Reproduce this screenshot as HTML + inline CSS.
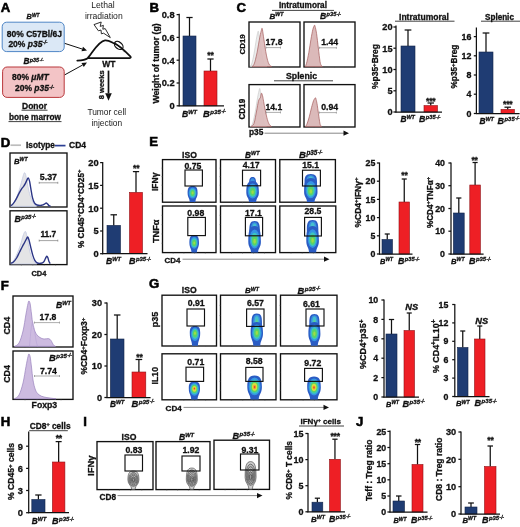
<!DOCTYPE html>
<html><head><meta charset="utf-8"><title>Figure</title>
<style>html,body{margin:0;padding:0;background:#fff}svg{display:block}text{font-family:"Liberation Sans",Arial,Helvetica,sans-serif}text[font-weight="bold"]{stroke:#111;stroke-width:0.3px}</style>
</head><body>
<svg width="520" height="527" viewBox="0 0 520 527">
<defs><filter id="bl" x="-20%" y="-20%" width="140%" height="140%"><feGaussianBlur stdDeviation="0.45"/></filter></defs>
<rect width="520" height="527" fill="#fff"/>
<text x="0.80" y="11.60" font-size="13.20" font-weight="bold" text-anchor="start" fill="#000" style="stroke:#000;stroke-width:0.55px">A</text>
<text x="149.50" y="11.60" font-size="13.20" font-weight="bold" text-anchor="start" fill="#000" style="stroke:#000;stroke-width:0.55px">B</text>
<text x="236.40" y="11.80" font-size="13.20" font-weight="bold" text-anchor="start" fill="#000" style="stroke:#000;stroke-width:0.55px">C</text>
<text x="0.80" y="146.60" font-size="13.20" font-weight="bold" text-anchor="start" fill="#000" style="stroke:#000;stroke-width:0.55px">D</text>
<text x="149.30" y="146.20" font-size="13.20" font-weight="bold" text-anchor="start" fill="#000" style="stroke:#000;stroke-width:0.55px">E</text>
<text x="0.80" y="290.00" font-size="13.20" font-weight="bold" text-anchor="start" fill="#000" style="stroke:#000;stroke-width:0.55px">F</text>
<text x="149.00" y="288.30" font-size="13.20" font-weight="bold" text-anchor="start" fill="#000" style="stroke:#000;stroke-width:0.55px">G</text>
<text x="0.80" y="425.50" font-size="13.20" font-weight="bold" text-anchor="start" fill="#000" style="stroke:#000;stroke-width:0.55px">H</text>
<text x="83.20" y="426.00" font-size="13.20" font-weight="bold" text-anchor="start" fill="#000" style="stroke:#000;stroke-width:0.55px">I</text>
<text x="356.00" y="426.00" font-size="13.20" font-weight="bold" text-anchor="start" fill="#000" style="stroke:#000;stroke-width:0.55px">J</text>
<text x="26.60" y="19.20" font-size="7.32" font-weight="bold" font-style="italic" fill="#111">B<tspan font-size="4.83" dy="-2.49">WT</tspan></text>
<rect x="2.20" y="22.20" width="62.00" height="29.40" fill="#dbe8f6" stroke="#4f86c6" stroke-width="1.0" rx="4.5"/>
<text x="6.80" y="36.80" font-size="8.49" font-weight="bold" text-anchor="start" fill="#111">80% C57Bl/6J</text>
<text x="8.40" y="46.60" font-size="8.49" font-weight="bold" fill="#111">20% <tspan font-style="italic">p35</tspan><tspan font-style="italic" font-size="5.09" dy="-2.72" dx="0.4">-/-</tspan></text>
<text x="23.40" y="64.40" font-size="8.24" font-weight="bold" font-style="italic" fill="#111">B<tspan font-size="5.44" dy="-2.80" dx="0.41">p35</tspan><tspan font-size="4.29" dy="-0.41" dx="0.41">-/-</tspan></text>
<rect x="2.60" y="67.00" width="61.60" height="30.40" fill="#f3c4c6" stroke="#b9373b" stroke-width="1.0" rx="4.5"/>
<text x="12" y="80.4" font-size="8.49" font-weight="bold" fill="#111">80% <tspan font-style="italic">μMT</tspan></text>
<text x="15.00" y="91.40" font-size="8.49" font-weight="bold" fill="#111">20% <tspan font-style="italic">p35</tspan><tspan font-style="italic" font-size="5.09" dy="-2.72" dx="0.4">-/-</tspan></text>
<text x="22.00" y="108.60" font-size="8.49" font-weight="bold" text-anchor="start" fill="#111">Donor</text>
<line x1="21.50" y1="110.20" x2="47.50" y2="110.20" stroke="#111" stroke-width="0.8" stroke-linecap="butt"/>
<text x="9.00" y="119.80" font-size="8.28" font-weight="bold" text-anchor="start" fill="#111">bone marrow</text>
<line x1="8.50" y1="121.60" x2="61.50" y2="121.60" stroke="#111" stroke-width="0.8" stroke-linecap="butt"/>
<text x="103.00" y="8.20" font-size="8.60" font-weight="normal" text-anchor="middle" fill="#222">Lethal</text>
<text x="103.80" y="18.60" font-size="8.60" font-weight="normal" text-anchor="middle" fill="#222">irradiation</text>
<path d="M94,24.6 L101.2,22 L100.2,26.4 L103.4,25.4 L102.8,29.2 L105.2,28.6 L110.3,37.6 L103.6,33.2 L101.4,33.8 L101,30 L98.4,30.8 Z" fill="#fff" stroke="#222" stroke-width="0.95" stroke-linejoin="miter"/>
<path d="M77.3,60.6 C81,60.4 85,60.2 87.6,58.2 C92,54 98,41 105,40.3 C109,40 112,42.5 114.5,43.5 C120,45.6 126,52 130.6,56.6 C131.2,57.6 130.4,58 129.4,58 L88,58" fill="none" stroke="#111" stroke-width="1.75" stroke-linecap="round" stroke-linejoin="round"/>
<ellipse cx="118.6" cy="45.4" rx="4.9" ry="3.3" transform="rotate(40 118.6 45.6)" fill="none" stroke="#111" stroke-width="1.2"/>
<line x1="114.60" y1="42.40" x2="123.40" y2="50.60" stroke="#111" stroke-width="0.9" stroke-linecap="butt"/>
<circle cx="124.2" cy="51.6" r="0.55" fill="#111"/>
<line x1="64.80" y1="43.40" x2="82.24" y2="49.06" stroke="#111" stroke-width="1.0" stroke-linecap="butt"/>
<path d="M87.00,50.60 L81.50,51.34 L82.98,46.77 Z" fill="#111"/>
<line x1="64.80" y1="74.80" x2="82.62" y2="65.01" stroke="#111" stroke-width="1.0" stroke-linecap="butt"/>
<path d="M87.00,62.60 L83.77,67.11 L81.46,62.90 Z" fill="#111"/>
<text x="102.20" y="67.00" font-size="8.49" font-weight="bold" text-anchor="start" fill="#111">WT</text>
<line x1="108.50" y1="70.60" x2="108.50" y2="93.20" stroke="#111" stroke-width="1.7" stroke-linecap="butt"/>
<path d="M108.50,100.80 L105.20,93.20 L111.80,93.20 Z" fill="#111"/>
<text x="104.10" y="99.20" font-size="7.51" font-weight="bold" fill="#111" transform="rotate(-90 104.10 99.20)">8 weeks</text>
<text x="106.80" y="115.20" font-size="8.40" font-weight="normal" text-anchor="middle" fill="#222">Tumor cell</text>
<text x="106.80" y="126.20" font-size="8.40" font-weight="normal" text-anchor="middle" fill="#222">injection</text>
<line x1="189.50" y1="36.00" x2="189.50" y2="17.50" stroke="#111" stroke-width="1.25" stroke-linecap="butt"/>
<line x1="186.38" y1="17.50" x2="192.62" y2="17.50" stroke="#111" stroke-width="1.25" stroke-linecap="butt"/>
<rect x="183.00" y="36.00" width="13.00" height="69.80" fill="#1f3c73" stroke="#132447" stroke-width="0.6"/>
<line x1="210.50" y1="71.00" x2="210.50" y2="59.00" stroke="#111" stroke-width="1.25" stroke-linecap="butt"/>
<line x1="207.38" y1="59.00" x2="213.62" y2="59.00" stroke="#111" stroke-width="1.25" stroke-linecap="butt"/>
<rect x="204.00" y="71.00" width="13.00" height="34.80" fill="#ee1f25" stroke="#8f1216" stroke-width="0.6"/>
<line x1="179.20" y1="13.80" x2="179.20" y2="106.30" stroke="#111" stroke-width="1.25" stroke-linecap="butt"/>
<line x1="178.70" y1="105.80" x2="224.00" y2="105.80" stroke="#111" stroke-width="1.25" stroke-linecap="butt"/>
<line x1="176.60" y1="14.60" x2="179.20" y2="14.60" stroke="#111" stroke-width="1.25" stroke-linecap="butt"/>
<text x="174.60" y="17.95" font-size="9.30" font-weight="bold" text-anchor="end" fill="#111">0.8</text>
<line x1="176.60" y1="37.40" x2="179.20" y2="37.40" stroke="#111" stroke-width="1.25" stroke-linecap="butt"/>
<text x="174.60" y="40.75" font-size="9.30" font-weight="bold" text-anchor="end" fill="#111">0.6</text>
<line x1="176.60" y1="60.20" x2="179.20" y2="60.20" stroke="#111" stroke-width="1.25" stroke-linecap="butt"/>
<text x="174.60" y="63.55" font-size="9.30" font-weight="bold" text-anchor="end" fill="#111">0.4</text>
<line x1="176.60" y1="83.00" x2="179.20" y2="83.00" stroke="#111" stroke-width="1.25" stroke-linecap="butt"/>
<text x="174.60" y="86.35" font-size="9.30" font-weight="bold" text-anchor="end" fill="#111">0.2</text>
<line x1="176.60" y1="105.80" x2="179.20" y2="105.80" stroke="#111" stroke-width="1.25" stroke-linecap="butt"/>
<text x="174.60" y="109.15" font-size="9.30" font-weight="bold" text-anchor="end" fill="#111">0</text>
<text x="182.00" y="117.00" font-size="8.58" font-weight="bold" font-style="italic" fill="#111">B<tspan font-size="5.66" dy="-2.92">WT</tspan></text>
<text x="203.00" y="117.00" font-size="9.39" font-weight="bold" font-style="italic" fill="#111">B<tspan font-size="6.20" dy="-3.19" dx="0.47">p35</tspan><tspan font-size="4.88" dy="-0.47" dx="0.47">-/-</tspan></text>
<text x="210.50" y="57.99" font-size="8.60" font-weight="bold" text-anchor="middle" fill="#111" letter-spacing="-0.2">**</text>
<text x="159.34" y="103.60" font-size="8.72" font-weight="bold" fill="#111" transform="rotate(-90 159.34 103.60)">Weight of tumor (g)</text>
<text x="279.00" y="8.20" font-size="8.23" font-weight="bold" text-anchor="start" fill="#111">Intratumoral</text>
<line x1="272.00" y1="10.40" x2="334.00" y2="10.40" stroke="#111" stroke-width="0.8" stroke-linecap="butt"/>
<text x="269.40" y="19.20" font-size="8.01" font-weight="bold" font-style="italic" fill="#111">B<tspan font-size="5.29" dy="-2.72">WT</tspan></text>
<text x="320.00" y="19.20" font-size="8.57" font-weight="bold" font-style="italic" fill="#111">B<tspan font-size="5.66" dy="-2.91" dx="0.43">p35</tspan><tspan font-size="4.46" dy="-0.43" dx="0.43">-/-</tspan></text>
<rect x="249.00" y="22.00" width="51.00" height="45.00" fill="#fff" stroke="#111" stroke-width="1.35"/>
<line x1="259.20" y1="67.00" x2="259.20" y2="68.00" stroke="#555" stroke-width="0.5" stroke-linecap="butt"/>
<line x1="248.00" y1="31.00" x2="249.00" y2="31.00" stroke="#555" stroke-width="0.5" stroke-linecap="butt"/>
<line x1="269.40" y1="67.00" x2="269.40" y2="68.00" stroke="#555" stroke-width="0.5" stroke-linecap="butt"/>
<line x1="248.00" y1="40.00" x2="249.00" y2="40.00" stroke="#555" stroke-width="0.5" stroke-linecap="butt"/>
<line x1="279.60" y1="67.00" x2="279.60" y2="68.00" stroke="#555" stroke-width="0.5" stroke-linecap="butt"/>
<line x1="248.00" y1="49.00" x2="249.00" y2="49.00" stroke="#555" stroke-width="0.5" stroke-linecap="butt"/>
<line x1="289.80" y1="67.00" x2="289.80" y2="68.00" stroke="#555" stroke-width="0.5" stroke-linecap="butt"/>
<line x1="248.00" y1="58.00" x2="249.00" y2="58.00" stroke="#555" stroke-width="0.5" stroke-linecap="butt"/>
<path d="M249.80,66.60 C250.11,66.18 250.93,66.29 251.65,64.12 C252.36,61.96 253.20,58.07 254.00,53.86 C254.80,49.64 255.71,43.01 256.35,39.34 C256.99,35.67 257.44,33.65 257.75,32.26 C258.06,30.88 258.04,31.14 258.20,31.20 C258.36,31.26 258.40,30.81 258.70,32.62 C259.00,34.42 259.37,37.85 259.96,41.82 C260.55,45.79 261.41,52.19 262.16,55.98 C262.91,59.77 263.54,62.32 264.36,64.12 C265.18,65.93 266.55,66.18 267.00,66.60 Z" fill="#ececec" stroke="#c4c4c4" stroke-width="0.6" stroke-linejoin="round" fill-opacity="1"/>
<path d="M252.00,66.60 C252.37,66.15 253.35,66.26 254.20,63.93 C255.05,61.59 256.05,57.39 257.00,52.85 C257.95,48.30 259.03,41.15 259.80,37.19 C260.57,33.22 261.18,31.04 261.55,29.55 C261.92,28.05 261.84,28.34 262.00,28.40 C262.16,28.46 262.17,27.98 262.50,29.93 C262.83,31.88 263.30,35.57 263.96,39.86 C264.62,44.15 265.58,51.05 266.41,55.14 C267.24,59.23 267.94,61.98 268.86,63.93 C269.78,65.87 271.30,66.15 271.80,66.60 Z" fill="#dbb9b9" stroke="#a45a5a" stroke-width="0.7" stroke-linejoin="round" fill-opacity="0.9"/>
<text x="265.60" y="44.80" font-size="8.73" font-weight="bold" text-anchor="start" fill="#111">17.8</text>
<line x1="266.00" y1="47.60" x2="280.50" y2="47.60" stroke="#777" stroke-width="0.6" stroke-linecap="butt"/>
<line x1="266.00" y1="46.60" x2="266.00" y2="48.60" stroke="#777" stroke-width="0.6" stroke-linecap="butt"/>
<line x1="280.50" y1="46.60" x2="280.50" y2="48.60" stroke="#777" stroke-width="0.6" stroke-linecap="butt"/>
<rect x="304.00" y="22.00" width="51.00" height="45.00" fill="#fff" stroke="#111" stroke-width="1.35"/>
<line x1="314.20" y1="67.00" x2="314.20" y2="68.00" stroke="#555" stroke-width="0.5" stroke-linecap="butt"/>
<line x1="303.00" y1="31.00" x2="304.00" y2="31.00" stroke="#555" stroke-width="0.5" stroke-linecap="butt"/>
<line x1="324.40" y1="67.00" x2="324.40" y2="68.00" stroke="#555" stroke-width="0.5" stroke-linecap="butt"/>
<line x1="303.00" y1="40.00" x2="304.00" y2="40.00" stroke="#555" stroke-width="0.5" stroke-linecap="butt"/>
<line x1="334.60" y1="67.00" x2="334.60" y2="68.00" stroke="#555" stroke-width="0.5" stroke-linecap="butt"/>
<line x1="303.00" y1="49.00" x2="304.00" y2="49.00" stroke="#555" stroke-width="0.5" stroke-linecap="butt"/>
<line x1="344.80" y1="67.00" x2="344.80" y2="68.00" stroke="#555" stroke-width="0.5" stroke-linecap="butt"/>
<line x1="303.00" y1="58.00" x2="304.00" y2="58.00" stroke="#555" stroke-width="0.5" stroke-linecap="butt"/>
<path d="M305.00,66.60 C305.24,66.11 305.79,66.09 306.44,63.70 C307.09,61.31 308.07,56.68 308.84,52.52 C309.61,48.37 310.27,43.22 310.95,39.28 C311.64,35.33 312.32,31.63 312.87,29.34 C313.42,27.05 313.91,26.52 314.20,25.82 C314.49,25.12 314.45,25.09 314.60,25.20 C314.75,25.31 314.77,25.03 315.10,26.44 C315.43,27.85 316.00,29.82 316.55,33.48 C317.10,37.14 317.75,43.18 318.34,47.97 C318.94,52.76 319.57,58.68 320.06,61.63 C320.55,64.59 320.83,64.51 321.23,65.36 C321.63,66.20 322.20,66.39 322.40,66.60 Z" fill="#dbb9b9" stroke="#a45a5a" stroke-width="0.7" stroke-linejoin="round" fill-opacity="1"/>
<text x="321.20" y="44.80" font-size="8.73" font-weight="bold" text-anchor="start" fill="#111">1.44</text>
<line x1="319.40" y1="47.80" x2="336.40" y2="47.80" stroke="#777" stroke-width="0.6" stroke-linecap="butt"/>
<line x1="319.40" y1="46.80" x2="319.40" y2="48.80" stroke="#777" stroke-width="0.6" stroke-linecap="butt"/>
<line x1="336.40" y1="46.80" x2="336.40" y2="48.80" stroke="#777" stroke-width="0.6" stroke-linecap="butt"/>
<text x="245.17" y="54.60" font-size="7.98" font-weight="bold" fill="#111" transform="rotate(-90 245.17 54.60)">CD19</text>
<text x="286.00" y="79.20" font-size="8.72" font-weight="bold" text-anchor="start" fill="#111">Splenic</text>
<line x1="274.00" y1="80.80" x2="333.00" y2="80.80" stroke="#111" stroke-width="0.8" stroke-linecap="butt"/>
<rect x="249.00" y="84.60" width="51.00" height="42.40" fill="#fff" stroke="#111" stroke-width="1.35"/>
<line x1="259.20" y1="127.00" x2="259.20" y2="128.00" stroke="#555" stroke-width="0.5" stroke-linecap="butt"/>
<line x1="248.00" y1="93.08" x2="249.00" y2="93.08" stroke="#555" stroke-width="0.5" stroke-linecap="butt"/>
<line x1="269.40" y1="127.00" x2="269.40" y2="128.00" stroke="#555" stroke-width="0.5" stroke-linecap="butt"/>
<line x1="248.00" y1="101.56" x2="249.00" y2="101.56" stroke="#555" stroke-width="0.5" stroke-linecap="butt"/>
<line x1="279.60" y1="127.00" x2="279.60" y2="128.00" stroke="#555" stroke-width="0.5" stroke-linecap="butt"/>
<line x1="248.00" y1="110.04" x2="249.00" y2="110.04" stroke="#555" stroke-width="0.5" stroke-linecap="butt"/>
<line x1="289.80" y1="127.00" x2="289.80" y2="128.00" stroke="#555" stroke-width="0.5" stroke-linecap="butt"/>
<line x1="248.00" y1="118.52" x2="249.00" y2="118.52" stroke="#555" stroke-width="0.5" stroke-linecap="butt"/>
<path d="M250.40,126.60 C250.75,126.15 251.66,126.27 252.45,123.94 C253.24,121.61 254.16,117.44 255.05,112.92 C255.94,108.40 256.94,101.28 257.65,97.34 C258.37,93.40 258.90,91.23 259.25,89.74 C259.60,88.25 259.54,88.54 259.70,88.60 C259.86,88.66 259.97,88.18 260.20,90.12 C260.43,92.06 260.62,95.74 261.06,100.00 C261.50,104.26 262.18,111.13 262.76,115.20 C263.34,119.27 263.82,122.00 264.46,123.94 C265.10,125.88 266.15,126.15 266.50,126.60 Z" fill="#ececec" stroke="#c4c4c4" stroke-width="0.6" stroke-linejoin="round" fill-opacity="1"/>
<path d="M251.00,126.60 C251.51,126.06 253.05,126.05 254.00,123.40 C254.95,120.75 255.85,114.72 256.60,111.00 C257.35,107.28 257.89,103.61 258.40,101.50 C258.91,99.39 259.26,99.26 259.60,98.60 C259.94,97.94 260.08,98.52 260.40,97.60 C260.72,96.68 261.13,93.47 261.50,93.20 C261.87,92.93 262.24,94.59 262.60,96.00 C262.96,97.41 263.16,99.12 263.60,101.50 C264.04,103.88 264.55,106.92 265.20,110.00 C265.85,113.08 266.69,117.12 267.40,119.60 C268.11,122.08 268.69,123.41 269.40,124.60 C270.11,125.79 271.23,126.26 271.60,126.60 Z" fill="#dbb9b9" stroke="#a45a5a" stroke-width="0.7" stroke-linejoin="round" fill-opacity="0.9"/>
<text x="265.60" y="109.80" font-size="8.53" font-weight="bold" text-anchor="start" fill="#111">14.1</text>
<line x1="266.00" y1="112.40" x2="280.50" y2="112.40" stroke="#777" stroke-width="0.6" stroke-linecap="butt"/>
<line x1="266.00" y1="111.40" x2="266.00" y2="113.40" stroke="#777" stroke-width="0.6" stroke-linecap="butt"/>
<line x1="280.50" y1="111.40" x2="280.50" y2="113.40" stroke="#777" stroke-width="0.6" stroke-linecap="butt"/>
<rect x="304.00" y="84.60" width="51.00" height="42.40" fill="#fff" stroke="#111" stroke-width="1.35"/>
<line x1="314.20" y1="127.00" x2="314.20" y2="128.00" stroke="#555" stroke-width="0.5" stroke-linecap="butt"/>
<line x1="303.00" y1="93.08" x2="304.00" y2="93.08" stroke="#555" stroke-width="0.5" stroke-linecap="butt"/>
<line x1="324.40" y1="127.00" x2="324.40" y2="128.00" stroke="#555" stroke-width="0.5" stroke-linecap="butt"/>
<line x1="303.00" y1="101.56" x2="304.00" y2="101.56" stroke="#555" stroke-width="0.5" stroke-linecap="butt"/>
<line x1="334.60" y1="127.00" x2="334.60" y2="128.00" stroke="#555" stroke-width="0.5" stroke-linecap="butt"/>
<line x1="303.00" y1="110.04" x2="304.00" y2="110.04" stroke="#555" stroke-width="0.5" stroke-linecap="butt"/>
<line x1="344.80" y1="127.00" x2="344.80" y2="128.00" stroke="#555" stroke-width="0.5" stroke-linecap="butt"/>
<line x1="303.00" y1="118.52" x2="304.00" y2="118.52" stroke="#555" stroke-width="0.5" stroke-linecap="butt"/>
<path d="M305.20,126.60 C305.46,126.26 306.04,126.25 306.73,124.58 C307.42,122.92 308.47,119.70 309.28,116.81 C310.09,113.92 310.80,110.33 311.52,107.59 C312.25,104.85 312.97,102.27 313.56,100.68 C314.15,99.09 314.69,98.72 315.00,98.23 C315.31,97.74 315.25,97.73 315.40,97.80 C315.55,97.87 315.63,97.68 315.90,98.66 C316.17,99.64 316.56,101.01 317.00,103.56 C317.44,106.11 317.98,110.31 318.47,113.64 C318.96,116.97 319.48,121.09 319.88,123.14 C320.28,125.20 320.51,125.15 320.84,125.74 C321.17,126.32 321.64,126.45 321.80,126.60 Z" fill="#dbb9b9" stroke="#a45a5a" stroke-width="0.7" stroke-linejoin="round" fill-opacity="1"/>
<text x="321.20" y="109.80" font-size="8.73" font-weight="bold" text-anchor="start" fill="#111">0.94</text>
<line x1="319.40" y1="112.60" x2="336.40" y2="112.60" stroke="#777" stroke-width="0.6" stroke-linecap="butt"/>
<line x1="319.40" y1="111.60" x2="319.40" y2="113.60" stroke="#777" stroke-width="0.6" stroke-linecap="butt"/>
<line x1="336.40" y1="111.60" x2="336.40" y2="113.60" stroke="#777" stroke-width="0.6" stroke-linecap="butt"/>
<text x="245.23" y="119.60" font-size="8.14" font-weight="bold" fill="#111" transform="rotate(-90 245.23 119.60)">CD19</text>
<text x="249.00" y="135.40" font-size="8.36" font-weight="bold" text-anchor="start" fill="#111">p35</text>
<line x1="264.50" y1="133.20" x2="345.00" y2="133.20" stroke="#555" stroke-width="0.7" stroke-linecap="butt"/>
<path d="M349.00,133.20 L343.50,130.60 L343.50,135.80 Z" fill="#111"/>
<text x="399.00" y="19.60" font-size="8.57" font-weight="bold" text-anchor="start" fill="#111">Intratumoral</text>
<line x1="395.00" y1="21.20" x2="454.50" y2="21.20" stroke="#111" stroke-width="0.8" stroke-linecap="butt"/>
<line x1="408.00" y1="46.00" x2="408.00" y2="30.00" stroke="#111" stroke-width="1.25" stroke-linecap="butt"/>
<line x1="404.64" y1="30.00" x2="411.36" y2="30.00" stroke="#111" stroke-width="1.25" stroke-linecap="butt"/>
<rect x="401.00" y="46.00" width="14.00" height="66.00" fill="#1f3c73" stroke="#132447" stroke-width="0.6"/>
<line x1="430.75" y1="105.60" x2="430.75" y2="103.00" stroke="#111" stroke-width="1.25" stroke-linecap="butt"/>
<line x1="427.51" y1="103.00" x2="433.99" y2="103.00" stroke="#111" stroke-width="1.25" stroke-linecap="butt"/>
<rect x="424.00" y="105.60" width="13.50" height="6.40" fill="#ee1f25" stroke="#8f1216" stroke-width="0.6"/>
<line x1="396.00" y1="25.50" x2="396.00" y2="112.50" stroke="#111" stroke-width="1.25" stroke-linecap="butt"/>
<line x1="395.50" y1="112.00" x2="442.00" y2="112.00" stroke="#111" stroke-width="1.25" stroke-linecap="butt"/>
<line x1="393.40" y1="27.00" x2="396.00" y2="27.00" stroke="#111" stroke-width="1.25" stroke-linecap="butt"/>
<text x="392.60" y="30.31" font-size="9.20" font-weight="bold" text-anchor="end" fill="#111">20</text>
<line x1="393.40" y1="48.20" x2="396.00" y2="48.20" stroke="#111" stroke-width="1.25" stroke-linecap="butt"/>
<text x="392.60" y="51.51" font-size="9.20" font-weight="bold" text-anchor="end" fill="#111">15</text>
<line x1="393.40" y1="69.50" x2="396.00" y2="69.50" stroke="#111" stroke-width="1.25" stroke-linecap="butt"/>
<text x="392.60" y="72.81" font-size="9.20" font-weight="bold" text-anchor="end" fill="#111">10</text>
<line x1="393.40" y1="90.80" x2="396.00" y2="90.80" stroke="#111" stroke-width="1.25" stroke-linecap="butt"/>
<text x="392.60" y="94.11" font-size="9.20" font-weight="bold" text-anchor="end" fill="#111">5</text>
<line x1="393.40" y1="112.00" x2="396.00" y2="112.00" stroke="#111" stroke-width="1.25" stroke-linecap="butt"/>
<text x="392.60" y="115.31" font-size="9.20" font-weight="bold" text-anchor="end" fill="#111">0</text>
<text x="400.40" y="122.00" font-size="8.35" font-weight="bold" font-style="italic" fill="#111">B<tspan font-size="5.51" dy="-2.84">WT</tspan></text>
<text x="419.00" y="122.00" font-size="8.77" font-weight="bold" font-style="italic" fill="#111">B<tspan font-size="5.79" dy="-2.98" dx="0.44">p35</tspan><tspan font-size="4.56" dy="-0.44" dx="0.44">-/-</tspan></text>
<text x="430.80" y="103.59" font-size="8.60" font-weight="bold" text-anchor="middle" fill="#111" letter-spacing="-0.2">***</text>
<text x="378.05" y="89.00" font-size="8.47" font-weight="bold" fill="#111" transform="rotate(-90 378.05 89.00)">%p35<tspan font-size="6.10" dy="-2.54">+</tspan><tspan dy="2.54">Breg</tspan></text>
<text x="485.00" y="19.60" font-size="8.15" font-weight="bold" text-anchor="start" fill="#111">Splenic</text>
<line x1="481.00" y1="21.20" x2="520.00" y2="21.20" stroke="#111" stroke-width="0.8" stroke-linecap="butt"/>
<line x1="486.00" y1="52.00" x2="486.00" y2="33.00" stroke="#111" stroke-width="1.25" stroke-linecap="butt"/>
<line x1="482.64" y1="33.00" x2="489.36" y2="33.00" stroke="#111" stroke-width="1.25" stroke-linecap="butt"/>
<rect x="479.00" y="52.00" width="14.00" height="61.50" fill="#1f3c73" stroke="#132447" stroke-width="0.6"/>
<line x1="507.70" y1="109.40" x2="507.70" y2="107.20" stroke="#111" stroke-width="1.25" stroke-linecap="butt"/>
<line x1="504.48" y1="107.20" x2="510.92" y2="107.20" stroke="#111" stroke-width="1.25" stroke-linecap="butt"/>
<rect x="501.00" y="109.40" width="13.40" height="4.10" fill="#ee1f25" stroke="#8f1216" stroke-width="0.6"/>
<line x1="476.40" y1="27.50" x2="476.40" y2="114.00" stroke="#111" stroke-width="1.25" stroke-linecap="butt"/>
<line x1="475.90" y1="113.50" x2="519.60" y2="113.50" stroke="#111" stroke-width="1.25" stroke-linecap="butt"/>
<line x1="473.80" y1="36.60" x2="476.40" y2="36.60" stroke="#111" stroke-width="1.25" stroke-linecap="butt"/>
<text x="471.40" y="39.80" font-size="8.90" font-weight="bold" text-anchor="end" fill="#111">16</text>
<line x1="473.80" y1="55.80" x2="476.40" y2="55.80" stroke="#111" stroke-width="1.25" stroke-linecap="butt"/>
<text x="471.40" y="59.00" font-size="8.90" font-weight="bold" text-anchor="end" fill="#111">12</text>
<line x1="473.80" y1="75.00" x2="476.40" y2="75.00" stroke="#111" stroke-width="1.25" stroke-linecap="butt"/>
<text x="471.40" y="78.20" font-size="8.90" font-weight="bold" text-anchor="end" fill="#111">8</text>
<line x1="473.80" y1="94.20" x2="476.40" y2="94.20" stroke="#111" stroke-width="1.25" stroke-linecap="butt"/>
<text x="471.40" y="97.40" font-size="8.90" font-weight="bold" text-anchor="end" fill="#111">4</text>
<line x1="473.80" y1="113.50" x2="476.40" y2="113.50" stroke="#111" stroke-width="1.25" stroke-linecap="butt"/>
<text x="471.40" y="116.70" font-size="8.90" font-weight="bold" text-anchor="end" fill="#111">0</text>
<text x="479.40" y="123.80" font-size="8.35" font-weight="bold" font-style="italic" fill="#111">B<tspan font-size="5.51" dy="-2.84">WT</tspan></text>
<text x="497.50" y="123.80" font-size="9.02" font-weight="bold" font-style="italic" fill="#111">B<tspan font-size="5.95" dy="-3.07" dx="0.45">p35</tspan><tspan font-size="4.69" dy="-0.45" dx="0.45">-/-</tspan></text>
<text x="507.80" y="107.39" font-size="8.60" font-weight="bold" text-anchor="middle" fill="#111" letter-spacing="-0.2">***</text>
<text x="457.48" y="88.50" font-size="8.28" font-weight="bold" fill="#111" transform="rotate(-90 457.48 88.50)">%p35<tspan font-size="5.96" dy="-2.49">+</tspan><tspan dy="2.49">Breg</tspan></text>
<line x1="10.50" y1="145.20" x2="21.00" y2="145.20" stroke="#bdbdbd" stroke-width="1.7" stroke-linecap="butt"/>
<text x="26.00" y="148.20" font-size="8.28" font-weight="bold" text-anchor="start" fill="#111">Isotype</text>
<line x1="55.00" y1="145.60" x2="65.50" y2="145.60" stroke="#2c3f94" stroke-width="1.7" stroke-linecap="butt"/>
<text x="69.00" y="148.20" font-size="8.50" font-weight="bold" text-anchor="start" fill="#111">CD4</text>
<rect x="10.00" y="153.00" width="57.00" height="54.00" fill="#fff" stroke="#111" stroke-width="1.35"/>
<line x1="21.40" y1="207.00" x2="21.40" y2="208.00" stroke="#555" stroke-width="0.5" stroke-linecap="butt"/>
<line x1="9.00" y1="163.80" x2="10.00" y2="163.80" stroke="#555" stroke-width="0.5" stroke-linecap="butt"/>
<line x1="32.80" y1="207.00" x2="32.80" y2="208.00" stroke="#555" stroke-width="0.5" stroke-linecap="butt"/>
<line x1="9.00" y1="174.60" x2="10.00" y2="174.60" stroke="#555" stroke-width="0.5" stroke-linecap="butt"/>
<line x1="44.20" y1="207.00" x2="44.20" y2="208.00" stroke="#555" stroke-width="0.5" stroke-linecap="butt"/>
<line x1="9.00" y1="185.40" x2="10.00" y2="185.40" stroke="#555" stroke-width="0.5" stroke-linecap="butt"/>
<line x1="55.60" y1="207.00" x2="55.60" y2="208.00" stroke="#555" stroke-width="0.5" stroke-linecap="butt"/>
<line x1="9.00" y1="196.20" x2="10.00" y2="196.20" stroke="#555" stroke-width="0.5" stroke-linecap="butt"/>
<path d="M10.80,206.40 C11.26,205.89 12.45,205.10 13.50,203.40 C14.55,201.70 15.89,199.12 17.00,196.40 C18.11,193.68 19.07,190.46 20.00,187.40 C20.93,184.34 21.85,180.69 22.50,178.40 C23.15,176.11 23.44,174.85 23.80,173.90 C24.16,172.95 24.29,172.72 24.60,172.80 C24.91,172.89 25.19,172.94 25.60,174.40 C26.01,175.86 26.42,178.51 27.00,181.40 C27.58,184.29 28.23,188.34 29.00,191.40 C29.77,194.46 30.65,197.28 31.50,199.40 C32.35,201.53 33.17,202.71 34.00,203.90 C34.83,205.09 35.99,205.97 36.40,206.40 Z" fill="#e4e4e6" stroke="#c3c9e2" stroke-width="0.8" stroke-linejoin="round" fill-opacity="1"/>
<path d="M10.60,205.80 C11.01,205.48 12.08,204.99 13.00,203.90 C13.92,202.81 14.98,201.19 16.00,199.40 C17.02,197.62 18.05,195.20 19.00,193.40 C19.95,191.60 20.82,189.99 21.60,188.80 C22.38,187.61 22.95,187.32 23.60,186.40 C24.25,185.48 24.82,184.50 25.40,183.40 C25.98,182.30 26.49,180.82 27.00,179.90 C27.51,178.98 27.96,177.75 28.40,178.00 C28.84,178.25 29.19,179.63 29.60,181.40 C30.01,183.17 30.32,185.68 30.80,188.40 C31.28,191.12 31.79,194.95 32.40,197.40 C33.01,199.85 33.62,201.51 34.40,202.80 C35.18,204.09 35.96,204.56 37.00,205.00 C38.04,205.44 39.48,205.43 40.50,205.40 C41.52,205.37 42.27,205.07 43.00,204.80 C43.73,204.53 44.26,204.11 44.80,203.80 C45.34,203.49 45.72,202.97 46.20,203.00 C46.68,203.03 47.12,203.56 47.60,204.00 C48.08,204.44 48.49,205.23 49.00,205.60 C49.51,205.97 50.33,206.10 50.60,206.20" fill="none" stroke="#2b3585" stroke-width="1.4" stroke-linejoin="round" fill-opacity="1"/>
<text x="14.00" y="163.80" font-size="7.78" font-weight="bold" font-style="italic" fill="#111">B<tspan font-size="5.13" dy="-2.64">WT</tspan></text>
<text x="39.80" y="180.00" font-size="8.84" font-weight="bold" text-anchor="start" fill="#111">5.37</text>
<line x1="39.20" y1="182.80" x2="57.80" y2="182.80" stroke="#666" stroke-width="0.6" stroke-linecap="butt"/>
<line x1="39.20" y1="181.80" x2="39.20" y2="183.80" stroke="#666" stroke-width="0.6" stroke-linecap="butt"/>
<line x1="57.80" y1="181.80" x2="57.80" y2="183.80" stroke="#666" stroke-width="0.6" stroke-linecap="butt"/>
<rect x="10.00" y="210.80" width="57.00" height="53.80" fill="#fff" stroke="#111" stroke-width="1.35"/>
<line x1="21.40" y1="264.60" x2="21.40" y2="265.60" stroke="#555" stroke-width="0.5" stroke-linecap="butt"/>
<line x1="9.00" y1="221.56" x2="10.00" y2="221.56" stroke="#555" stroke-width="0.5" stroke-linecap="butt"/>
<line x1="32.80" y1="264.60" x2="32.80" y2="265.60" stroke="#555" stroke-width="0.5" stroke-linecap="butt"/>
<line x1="9.00" y1="232.32" x2="10.00" y2="232.32" stroke="#555" stroke-width="0.5" stroke-linecap="butt"/>
<line x1="44.20" y1="264.60" x2="44.20" y2="265.60" stroke="#555" stroke-width="0.5" stroke-linecap="butt"/>
<line x1="9.00" y1="243.08" x2="10.00" y2="243.08" stroke="#555" stroke-width="0.5" stroke-linecap="butt"/>
<line x1="55.60" y1="264.60" x2="55.60" y2="265.60" stroke="#555" stroke-width="0.5" stroke-linecap="butt"/>
<line x1="9.00" y1="253.84" x2="10.00" y2="253.84" stroke="#555" stroke-width="0.5" stroke-linecap="butt"/>
<path d="M10.80,264.00 C11.26,263.49 12.45,262.70 13.50,261.00 C14.55,259.30 15.83,256.72 17.00,254.00 C18.17,251.28 19.38,248.06 20.40,245.00 C21.42,241.94 22.32,238.14 23.00,236.00 C23.68,233.86 24.01,233.16 24.40,232.40 C24.79,231.64 24.99,231.40 25.30,231.50 C25.61,231.60 25.81,231.56 26.20,233.00 C26.59,234.44 27.04,237.11 27.60,240.00 C28.16,242.89 28.75,246.94 29.50,250.00 C30.25,253.06 31.15,255.96 32.00,258.00 C32.85,260.04 33.72,260.98 34.50,262.00 C35.28,263.02 36.24,263.66 36.60,264.00 Z" fill="#e4e4e6" stroke="#c3c9e2" stroke-width="0.8" stroke-linejoin="round" fill-opacity="1"/>
<path d="M10.60,263.40 C11.08,263.16 12.38,262.92 13.40,262.00 C14.42,261.08 15.55,259.70 16.60,258.00 C17.65,256.30 18.61,253.96 19.60,252.00 C20.59,250.04 21.55,248.12 22.40,246.50 C23.25,244.88 23.92,243.78 24.60,242.50 C25.28,241.22 25.87,239.94 26.40,239.00 C26.93,238.06 27.26,236.83 27.70,237.00 C28.14,237.17 28.51,238.37 29.00,240.00 C29.49,241.63 29.99,244.12 30.60,246.60 C31.21,249.08 31.89,252.25 32.60,254.60 C33.31,256.95 33.98,258.97 34.80,260.40 C35.62,261.83 36.35,262.52 37.40,263.00 C38.45,263.48 39.95,263.37 41.00,263.20 C42.05,263.03 42.89,262.71 43.60,262.00 C44.31,261.29 44.72,259.92 45.20,259.00 C45.68,258.08 46.06,257.04 46.40,256.60 C46.74,256.16 46.93,256.16 47.20,256.40 C47.47,256.64 47.69,257.12 48.00,258.00 C48.31,258.88 48.63,260.65 49.00,261.60 C49.37,262.55 50.00,263.26 50.20,263.60" fill="none" stroke="#2b3585" stroke-width="1.4" stroke-linejoin="round" fill-opacity="1"/>
<text x="14.40" y="221.60" font-size="8.90" font-weight="bold" font-style="italic" fill="#111">B<tspan font-size="5.87" dy="-3.02" dx="0.44">p35</tspan><tspan font-size="4.63" dy="-0.44" dx="0.44">-/-</tspan></text>
<text x="40.40" y="237.00" font-size="8.35" font-weight="bold" text-anchor="start" fill="#111">11.7</text>
<line x1="39.20" y1="240.60" x2="57.80" y2="240.60" stroke="#666" stroke-width="0.6" stroke-linecap="butt"/>
<line x1="39.20" y1="239.60" x2="39.20" y2="241.60" stroke="#666" stroke-width="0.6" stroke-linecap="butt"/>
<line x1="57.80" y1="239.60" x2="57.80" y2="241.60" stroke="#666" stroke-width="0.6" stroke-linecap="butt"/>
<text x="31.50" y="275.60" font-size="7.45" font-weight="bold" text-anchor="start" fill="#111">CD4</text>
<line x1="113.75" y1="225.40" x2="113.75" y2="214.80" stroke="#111" stroke-width="1.25" stroke-linecap="butt"/>
<line x1="110.51" y1="214.80" x2="116.99" y2="214.80" stroke="#111" stroke-width="1.25" stroke-linecap="butt"/>
<rect x="107.00" y="225.40" width="13.50" height="28.30" fill="#1f3c73" stroke="#132447" stroke-width="0.6"/>
<line x1="136.00" y1="192.40" x2="136.00" y2="171.60" stroke="#111" stroke-width="1.25" stroke-linecap="butt"/>
<line x1="132.88" y1="171.60" x2="139.12" y2="171.60" stroke="#111" stroke-width="1.25" stroke-linecap="butt"/>
<rect x="129.50" y="192.40" width="13.00" height="61.30" fill="#ee1f25" stroke="#8f1216" stroke-width="0.6"/>
<line x1="102.70" y1="162.00" x2="102.70" y2="254.20" stroke="#111" stroke-width="1.25" stroke-linecap="butt"/>
<line x1="102.20" y1="253.70" x2="147.50" y2="253.70" stroke="#111" stroke-width="1.25" stroke-linecap="butt"/>
<line x1="100.10" y1="162.60" x2="102.70" y2="162.60" stroke="#111" stroke-width="1.25" stroke-linecap="butt"/>
<text x="98.60" y="165.95" font-size="9.30" font-weight="bold" text-anchor="end" fill="#111">20</text>
<line x1="100.10" y1="185.40" x2="102.70" y2="185.40" stroke="#111" stroke-width="1.25" stroke-linecap="butt"/>
<text x="98.60" y="188.75" font-size="9.30" font-weight="bold" text-anchor="end" fill="#111">15</text>
<line x1="100.10" y1="208.20" x2="102.70" y2="208.20" stroke="#111" stroke-width="1.25" stroke-linecap="butt"/>
<text x="98.60" y="211.55" font-size="9.30" font-weight="bold" text-anchor="end" fill="#111">10</text>
<line x1="100.10" y1="231.00" x2="102.70" y2="231.00" stroke="#111" stroke-width="1.25" stroke-linecap="butt"/>
<text x="98.60" y="234.35" font-size="9.30" font-weight="bold" text-anchor="end" fill="#111">5</text>
<line x1="100.10" y1="253.70" x2="102.70" y2="253.70" stroke="#111" stroke-width="1.25" stroke-linecap="butt"/>
<text x="98.60" y="257.05" font-size="9.30" font-weight="bold" text-anchor="end" fill="#111">0</text>
<text x="106.00" y="264.00" font-size="8.58" font-weight="bold" font-style="italic" fill="#111">B<tspan font-size="5.66" dy="-2.92">WT</tspan></text>
<text x="129.00" y="264.00" font-size="8.98" font-weight="bold" font-style="italic" fill="#111">B<tspan font-size="5.93" dy="-3.05" dx="0.45">p35</tspan><tspan font-size="4.67" dy="-0.45" dx="0.45">-/-</tspan></text>
<text x="136.20" y="170.89" font-size="8.60" font-weight="bold" text-anchor="middle" fill="#111" letter-spacing="-0.2">**</text>
<text x="83.96" y="248.00" font-size="8.23" font-weight="bold" fill="#111" transform="rotate(-90 83.96 248.00)">% CD45<tspan font-size="5.92" dy="-2.47">+</tspan><tspan dy="2.47">CD4</tspan><tspan font-size="5.92" dy="-2.47">+</tspan><tspan dy="2.47">CD25</tspan><tspan font-size="5.92" dy="-2.47">+</tspan></text>
<text x="189.50" y="157.60" font-size="8.60" font-weight="bold" text-anchor="middle" fill="#111">ISO</text>
<text x="245.00" y="157.60" font-size="8.29" font-weight="bold" font-style="italic" fill="#111">B<tspan font-size="5.47" dy="-2.82">WT</tspan></text>
<text x="299.00" y="158.00" font-size="9.59" font-weight="bold" font-style="italic" fill="#111">B<tspan font-size="6.33" dy="-3.26" dx="0.48">p35</tspan><tspan font-size="4.99" dy="-0.48" dx="0.48">-/-</tspan></text>
<text x="158.46" y="191.00" font-size="8.49" font-weight="bold" fill="#111" transform="rotate(-90 158.46 191.00)">IFNγ</text>
<text x="158.71" y="243.00" font-size="9.18" font-weight="bold" fill="#111" transform="rotate(-90 158.71 243.00)">TNFα</text>
<rect x="162.50" y="159.60" width="53.50" height="42.60" fill="#fff" stroke="#111" stroke-width="1.35"/>
<line x1="173.20" y1="202.20" x2="173.20" y2="203.20" stroke="#555" stroke-width="0.5" stroke-linecap="butt"/>
<line x1="161.50" y1="168.12" x2="162.50" y2="168.12" stroke="#555" stroke-width="0.5" stroke-linecap="butt"/>
<line x1="183.90" y1="202.20" x2="183.90" y2="203.20" stroke="#555" stroke-width="0.5" stroke-linecap="butt"/>
<line x1="161.50" y1="176.64" x2="162.50" y2="176.64" stroke="#555" stroke-width="0.5" stroke-linecap="butt"/>
<line x1="194.60" y1="202.20" x2="194.60" y2="203.20" stroke="#555" stroke-width="0.5" stroke-linecap="butt"/>
<line x1="161.50" y1="185.16" x2="162.50" y2="185.16" stroke="#555" stroke-width="0.5" stroke-linecap="butt"/>
<line x1="205.30" y1="202.20" x2="205.30" y2="203.20" stroke="#555" stroke-width="0.5" stroke-linecap="butt"/>
<line x1="161.50" y1="193.68" x2="162.50" y2="193.68" stroke="#555" stroke-width="0.5" stroke-linecap="butt"/>
<g filter="url(#bl)">
<path d="M189.80,202.00 C189.60,197.95 187.60,197.50 187.60,193.00 C187.60,188.45 188.40,186.00 192.60,186.00 C196.80,186.00 197.60,188.45 197.60,193.00 C197.60,197.50 195.60,197.95 195.40,202.00 Z" fill="#2a5cc4"/>
<ellipse cx="192.60" cy="193.08" rx="3.90" ry="5.54" fill="#3595e3"/>
<ellipse cx="192.60" cy="193.06" rx="2.90" ry="4.12" fill="#3cc6c0"/>
<ellipse cx="192.60" cy="193.04" rx="2.10" ry="2.98" fill="#58d36a"/>
<ellipse cx="192.60" cy="193.02" rx="1.00" ry="1.42" fill="#9edc46"/>
</g>
<text x="193.00" y="168.80" font-size="8.70" font-weight="bold" text-anchor="middle" fill="#111">0.75</text>
<rect x="185.00" y="170.00" width="17.40" height="16.00" fill="none" stroke="#111" stroke-width="1.15"/>
<rect x="220.50" y="159.60" width="55.00" height="42.60" fill="#fff" stroke="#111" stroke-width="1.35"/>
<line x1="231.50" y1="202.20" x2="231.50" y2="203.20" stroke="#555" stroke-width="0.5" stroke-linecap="butt"/>
<line x1="219.50" y1="168.12" x2="220.50" y2="168.12" stroke="#555" stroke-width="0.5" stroke-linecap="butt"/>
<line x1="242.50" y1="202.20" x2="242.50" y2="203.20" stroke="#555" stroke-width="0.5" stroke-linecap="butt"/>
<line x1="219.50" y1="176.64" x2="220.50" y2="176.64" stroke="#555" stroke-width="0.5" stroke-linecap="butt"/>
<line x1="253.50" y1="202.20" x2="253.50" y2="203.20" stroke="#555" stroke-width="0.5" stroke-linecap="butt"/>
<line x1="219.50" y1="185.16" x2="220.50" y2="185.16" stroke="#555" stroke-width="0.5" stroke-linecap="butt"/>
<line x1="264.50" y1="202.20" x2="264.50" y2="203.20" stroke="#555" stroke-width="0.5" stroke-linecap="butt"/>
<line x1="219.50" y1="193.68" x2="220.50" y2="193.68" stroke="#555" stroke-width="0.5" stroke-linecap="butt"/>
<g filter="url(#bl)">
<path d="M249.45,192.50 C249.25,188.66 249.10,188.24 249.10,183.97 C249.10,179.44 249.66,177.00 252.60,177.00 C255.54,177.00 256.10,179.44 256.10,183.97 C256.10,188.24 255.95,188.66 255.75,192.50 Z" fill="#2a5cc4"/>
<path d="M250.64,192.50 C250.44,189.01 250.15,188.62 250.15,184.75 C250.15,180.49 250.54,178.20 252.60,178.20 C254.66,178.20 255.05,180.49 255.05,184.75 C255.05,188.62 254.76,189.01 254.56,192.50 Z" fill="#3a8fe0"/>
<path d="M249.07,202.00 C248.87,197.72 246.30,197.25 246.30,192.50 C246.30,185.03 247.31,181.00 252.60,181.00 C257.89,181.00 258.90,185.03 258.90,192.50 C258.90,197.25 256.33,197.72 256.13,202.00 Z" fill="#2a5cc4"/>
<ellipse cx="252.60" cy="190.98" rx="4.91" ry="7.45" fill="#3595e3"/>
<ellipse cx="252.60" cy="191.37" rx="3.65" ry="5.54" fill="#3cc6c0"/>
<ellipse cx="252.60" cy="191.68" rx="2.65" ry="4.01" fill="#58d36a"/>
<ellipse cx="252.60" cy="192.11" rx="1.26" ry="1.91" fill="#9edc46"/>
</g>
<text x="251.20" y="168.00" font-size="8.70" font-weight="bold" text-anchor="middle" fill="#111">4.17</text>
<rect x="242.50" y="170.20" width="18.10" height="15.60" fill="none" stroke="#111" stroke-width="1.15"/>
<rect x="279.80" y="159.60" width="55.60" height="42.60" fill="#fff" stroke="#111" stroke-width="1.35"/>
<line x1="290.92" y1="202.20" x2="290.92" y2="203.20" stroke="#555" stroke-width="0.5" stroke-linecap="butt"/>
<line x1="278.80" y1="168.12" x2="279.80" y2="168.12" stroke="#555" stroke-width="0.5" stroke-linecap="butt"/>
<line x1="302.04" y1="202.20" x2="302.04" y2="203.20" stroke="#555" stroke-width="0.5" stroke-linecap="butt"/>
<line x1="278.80" y1="176.64" x2="279.80" y2="176.64" stroke="#555" stroke-width="0.5" stroke-linecap="butt"/>
<line x1="313.16" y1="202.20" x2="313.16" y2="203.20" stroke="#555" stroke-width="0.5" stroke-linecap="butt"/>
<line x1="278.80" y1="185.16" x2="279.80" y2="185.16" stroke="#555" stroke-width="0.5" stroke-linecap="butt"/>
<line x1="324.28" y1="202.20" x2="324.28" y2="203.20" stroke="#555" stroke-width="0.5" stroke-linecap="butt"/>
<line x1="278.80" y1="193.68" x2="279.80" y2="193.68" stroke="#555" stroke-width="0.5" stroke-linecap="butt"/>
<g filter="url(#bl)">
<path d="M305.18,192.00 C304.98,187.54 304.55,187.05 304.55,182.10 C304.55,176.84 305.55,174.00 310.80,174.00 C316.05,174.00 317.05,176.84 317.05,182.10 C317.05,187.05 316.62,187.54 316.43,192.00 Z" fill="#2a5cc4"/>
<path d="M307.30,192.00 C307.10,187.95 306.43,187.50 306.43,183.00 C306.43,177.93 307.12,175.20 310.80,175.20 C314.48,175.20 315.18,177.93 315.18,183.00 C315.18,187.50 314.50,187.95 314.30,192.00 Z" fill="#3a8fe0"/>
<path d="M308.70,192.00 C308.50,188.11 308.18,187.68 308.18,183.36 C308.18,178.97 308.60,176.60 310.80,176.60 C313.00,176.60 313.43,178.97 313.43,183.36 C313.43,187.68 313.10,188.11 312.90,192.00 Z" fill="#45c0cc"/>
<ellipse cx="310.80" cy="182.10" rx="1.25" ry="2.88" fill="#5fd08a"/>
<path d="M307.05,202.00 C306.85,197.50 304.10,197.00 304.10,192.00 C304.10,182.90 305.17,178.00 310.80,178.00 C316.43,178.00 317.50,182.90 317.50,192.00 C317.50,197.00 314.75,197.50 314.55,202.00 Z" fill="#2a5cc4"/>
<ellipse cx="310.80" cy="189.66" rx="5.23" ry="8.58" fill="#3595e3"/>
<ellipse cx="310.80" cy="190.26" rx="3.89" ry="6.38" fill="#3cc6c0"/>
<ellipse cx="310.80" cy="190.74" rx="2.81" ry="4.62" fill="#58d36a"/>
<ellipse cx="310.80" cy="191.40" rx="1.34" ry="2.20" fill="#9edc46"/>
</g>
<text x="310.60" y="168.00" font-size="8.70" font-weight="bold" text-anchor="middle" fill="#111">15.1</text>
<rect x="302.50" y="170.20" width="17.90" height="15.80" fill="none" stroke="#111" stroke-width="1.15"/>
<rect x="162.50" y="206.00" width="53.50" height="46.60" fill="#fff" stroke="#111" stroke-width="1.35"/>
<line x1="173.20" y1="252.60" x2="173.20" y2="253.60" stroke="#555" stroke-width="0.5" stroke-linecap="butt"/>
<line x1="161.50" y1="215.32" x2="162.50" y2="215.32" stroke="#555" stroke-width="0.5" stroke-linecap="butt"/>
<line x1="183.90" y1="252.60" x2="183.90" y2="253.60" stroke="#555" stroke-width="0.5" stroke-linecap="butt"/>
<line x1="161.50" y1="224.64" x2="162.50" y2="224.64" stroke="#555" stroke-width="0.5" stroke-linecap="butt"/>
<line x1="194.60" y1="252.60" x2="194.60" y2="253.60" stroke="#555" stroke-width="0.5" stroke-linecap="butt"/>
<line x1="161.50" y1="233.96" x2="162.50" y2="233.96" stroke="#555" stroke-width="0.5" stroke-linecap="butt"/>
<line x1="205.30" y1="252.60" x2="205.30" y2="253.60" stroke="#555" stroke-width="0.5" stroke-linecap="butt"/>
<line x1="161.50" y1="243.28" x2="162.50" y2="243.28" stroke="#555" stroke-width="0.5" stroke-linecap="butt"/>
<g filter="url(#bl)">
<path d="M191.51,252.40 C191.31,248.17 189.40,247.70 189.40,243.00 C189.40,237.80 190.17,235.00 194.20,235.00 C198.23,235.00 199.00,237.80 199.00,243.00 C199.00,247.70 197.09,248.17 196.89,252.40 Z" fill="#2a5cc4"/>
<ellipse cx="194.20" cy="242.81" rx="3.74" ry="6.05" fill="#3595e3"/>
<ellipse cx="194.20" cy="242.86" rx="2.78" ry="4.50" fill="#3cc6c0"/>
<ellipse cx="194.20" cy="242.90" rx="2.02" ry="3.26" fill="#58d36a"/>
<ellipse cx="194.20" cy="242.95" rx="0.96" ry="1.55" fill="#9edc46"/>
</g>
<text x="195.80" y="216.20" font-size="8.70" font-weight="bold" text-anchor="middle" fill="#111">0.98</text>
<rect x="187.80" y="217.40" width="17.60" height="18.20" fill="none" stroke="#111" stroke-width="1.15"/>
<rect x="220.50" y="206.00" width="55.00" height="46.60" fill="#fff" stroke="#111" stroke-width="1.35"/>
<line x1="231.50" y1="252.60" x2="231.50" y2="253.60" stroke="#555" stroke-width="0.5" stroke-linecap="butt"/>
<line x1="219.50" y1="215.32" x2="220.50" y2="215.32" stroke="#555" stroke-width="0.5" stroke-linecap="butt"/>
<line x1="242.50" y1="252.60" x2="242.50" y2="253.60" stroke="#555" stroke-width="0.5" stroke-linecap="butt"/>
<line x1="219.50" y1="224.64" x2="220.50" y2="224.64" stroke="#555" stroke-width="0.5" stroke-linecap="butt"/>
<line x1="253.50" y1="252.60" x2="253.50" y2="253.60" stroke="#555" stroke-width="0.5" stroke-linecap="butt"/>
<line x1="219.50" y1="233.96" x2="220.50" y2="233.96" stroke="#555" stroke-width="0.5" stroke-linecap="butt"/>
<line x1="264.50" y1="252.60" x2="264.50" y2="253.60" stroke="#555" stroke-width="0.5" stroke-linecap="butt"/>
<line x1="219.50" y1="243.28" x2="220.50" y2="243.28" stroke="#555" stroke-width="0.5" stroke-linecap="butt"/>
<g filter="url(#bl)">
<path d="M249.88,242.00 C249.68,236.80 249.35,236.22 249.35,230.45 C249.35,224.31 250.19,221.00 254.60,221.00 C259.01,221.00 259.85,224.31 259.85,230.45 C259.85,236.22 259.52,236.80 259.32,242.00 Z" fill="#2a5cc4"/>
<path d="M251.66,242.00 C251.46,237.28 250.92,236.75 250.92,231.50 C250.92,225.45 251.51,222.20 254.60,222.20 C257.69,222.20 258.27,225.45 258.27,231.50 C258.27,236.75 257.74,237.28 257.54,242.00 Z" fill="#3a8fe0"/>
<path d="M252.84,242.00 C252.64,237.46 252.39,236.96 252.39,231.92 C252.39,226.51 252.75,223.60 254.60,223.60 C256.45,223.60 256.81,226.51 256.81,231.92 C256.81,236.96 256.56,237.46 256.36,242.00 Z" fill="#45c0cc"/>
<ellipse cx="254.60" cy="230.45" rx="1.05" ry="3.36" fill="#5fd08a"/>
<path d="M251.07,252.40 C250.87,247.72 248.30,247.20 248.30,242.00 C248.30,231.60 249.31,226.00 254.60,226.00 C259.89,226.00 260.90,231.60 260.90,242.00 C260.90,247.20 258.33,247.72 258.13,252.40 Z" fill="#2a5cc4"/>
<ellipse cx="254.60" cy="239.00" rx="4.91" ry="9.48" fill="#3595e3"/>
<ellipse cx="254.60" cy="239.77" rx="3.65" ry="7.05" fill="#3cc6c0"/>
<ellipse cx="254.60" cy="240.39" rx="2.65" ry="5.11" fill="#58d36a"/>
<ellipse cx="254.60" cy="241.23" rx="1.26" ry="2.43" fill="#9edc46"/>
</g>
<text x="253.50" y="216.20" font-size="8.70" font-weight="bold" text-anchor="middle" fill="#111">17.1</text>
<rect x="245.40" y="217.40" width="17.20" height="18.40" fill="none" stroke="#111" stroke-width="1.15"/>
<rect x="279.80" y="206.00" width="56.00" height="46.60" fill="#fff" stroke="#111" stroke-width="1.35"/>
<line x1="291.00" y1="252.60" x2="291.00" y2="253.60" stroke="#555" stroke-width="0.5" stroke-linecap="butt"/>
<line x1="278.80" y1="215.32" x2="279.80" y2="215.32" stroke="#555" stroke-width="0.5" stroke-linecap="butt"/>
<line x1="302.20" y1="252.60" x2="302.20" y2="253.60" stroke="#555" stroke-width="0.5" stroke-linecap="butt"/>
<line x1="278.80" y1="224.64" x2="279.80" y2="224.64" stroke="#555" stroke-width="0.5" stroke-linecap="butt"/>
<line x1="313.40" y1="252.60" x2="313.40" y2="253.60" stroke="#555" stroke-width="0.5" stroke-linecap="butt"/>
<line x1="278.80" y1="233.96" x2="279.80" y2="233.96" stroke="#555" stroke-width="0.5" stroke-linecap="butt"/>
<line x1="324.60" y1="252.60" x2="324.60" y2="253.60" stroke="#555" stroke-width="0.5" stroke-linecap="butt"/>
<line x1="278.80" y1="243.28" x2="279.80" y2="243.28" stroke="#555" stroke-width="0.5" stroke-linecap="butt"/>
<g filter="url(#bl)">
<path d="M307.43,241.00 C307.23,235.80 306.85,235.22 306.85,229.45 C306.85,223.31 307.77,220.00 312.60,220.00 C317.43,220.00 318.35,223.31 318.35,229.45 C318.35,235.22 317.98,235.80 317.78,241.00 Z" fill="#2a5cc4"/>
<path d="M309.38,241.00 C309.18,236.28 308.58,235.75 308.58,230.50 C308.58,224.45 309.22,221.20 312.60,221.20 C315.98,221.20 316.62,224.45 316.62,230.50 C316.62,235.75 316.02,236.28 315.82,241.00 Z" fill="#3a8fe0"/>
<path d="M310.67,241.00 C310.47,236.46 310.19,235.96 310.19,230.92 C310.19,225.51 310.57,222.60 312.60,222.60 C314.63,222.60 315.02,225.51 315.02,230.92 C315.02,235.96 314.73,236.46 314.53,241.00 Z" fill="#45c0cc"/>
<ellipse cx="312.60" cy="229.45" rx="1.15" ry="3.36" fill="#5fd08a"/>
<path d="M309.07,252.40 C308.87,247.27 306.30,246.70 306.30,241.00 C306.30,231.25 307.31,226.00 312.60,226.00 C317.89,226.00 318.90,231.25 318.90,241.00 C318.90,246.70 316.33,247.27 316.13,252.40 Z" fill="#2a5cc4"/>
<ellipse cx="312.60" cy="238.71" rx="4.91" ry="9.41" fill="#3595e3"/>
<ellipse cx="312.60" cy="239.29" rx="3.65" ry="6.99" fill="#3cc6c0"/>
<ellipse cx="312.60" cy="239.77" rx="2.65" ry="5.07" fill="#58d36a"/>
<ellipse cx="312.60" cy="240.41" rx="1.26" ry="2.41" fill="#9edc46"/>
</g>
<text x="313.00" y="214.20" font-size="8.70" font-weight="bold" text-anchor="middle" fill="#111">28.5</text>
<rect x="304.60" y="217.40" width="16.80" height="18.60" fill="none" stroke="#111" stroke-width="1.15"/>
<text x="164.60" y="263.00" font-size="7.90" font-weight="bold" text-anchor="start" fill="#111">CD4</text>
<line x1="182.50" y1="259.20" x2="325.50" y2="259.20" stroke="#555" stroke-width="0.7" stroke-linecap="butt"/>
<path d="M329.50,259.20 L324.00,256.60 L324.00,261.80 Z" fill="#111"/>
<line x1="387.25" y1="239.50" x2="387.25" y2="234.00" stroke="#111" stroke-width="1.25" stroke-linecap="butt"/>
<line x1="384.73" y1="234.00" x2="389.77" y2="234.00" stroke="#111" stroke-width="1.25" stroke-linecap="butt"/>
<rect x="382.00" y="239.50" width="10.50" height="14.50" fill="#1f3c73" stroke="#132447" stroke-width="0.6"/>
<line x1="404.25" y1="202.00" x2="404.25" y2="179.00" stroke="#111" stroke-width="1.25" stroke-linecap="butt"/>
<line x1="401.73" y1="179.00" x2="406.77" y2="179.00" stroke="#111" stroke-width="1.25" stroke-linecap="butt"/>
<rect x="399.00" y="202.00" width="10.50" height="52.00" fill="#ee1f25" stroke="#8f1216" stroke-width="0.6"/>
<line x1="379.50" y1="162.50" x2="379.50" y2="254.50" stroke="#111" stroke-width="1.25" stroke-linecap="butt"/>
<line x1="379.00" y1="254.00" x2="412.50" y2="254.00" stroke="#111" stroke-width="1.25" stroke-linecap="butt"/>
<line x1="376.90" y1="163.00" x2="379.50" y2="163.00" stroke="#111" stroke-width="1.25" stroke-linecap="butt"/>
<text x="375.40" y="166.17" font-size="8.80" font-weight="bold" text-anchor="end" fill="#111">25</text>
<line x1="376.90" y1="181.20" x2="379.50" y2="181.20" stroke="#111" stroke-width="1.25" stroke-linecap="butt"/>
<text x="375.40" y="184.37" font-size="8.80" font-weight="bold" text-anchor="end" fill="#111">20</text>
<line x1="376.90" y1="199.40" x2="379.50" y2="199.40" stroke="#111" stroke-width="1.25" stroke-linecap="butt"/>
<text x="375.40" y="202.57" font-size="8.80" font-weight="bold" text-anchor="end" fill="#111">15</text>
<line x1="376.90" y1="217.60" x2="379.50" y2="217.60" stroke="#111" stroke-width="1.25" stroke-linecap="butt"/>
<text x="375.40" y="220.77" font-size="8.80" font-weight="bold" text-anchor="end" fill="#111">10</text>
<line x1="376.90" y1="235.80" x2="379.50" y2="235.80" stroke="#111" stroke-width="1.25" stroke-linecap="butt"/>
<text x="375.40" y="238.97" font-size="8.80" font-weight="bold" text-anchor="end" fill="#111">5</text>
<line x1="376.90" y1="254.00" x2="379.50" y2="254.00" stroke="#111" stroke-width="1.25" stroke-linecap="butt"/>
<text x="375.40" y="257.17" font-size="8.80" font-weight="bold" text-anchor="end" fill="#111">0</text>
<text x="380.00" y="264.00" font-size="7.44" font-weight="bold" font-style="italic" fill="#111">B<tspan font-size="4.91" dy="-2.53">WT</tspan></text>
<text x="398.00" y="264.00" font-size="8.77" font-weight="bold" font-style="italic" fill="#111">B<tspan font-size="5.79" dy="-2.98" dx="0.44">p35</tspan><tspan font-size="4.56" dy="-0.44" dx="0.44">-/-</tspan></text>
<text x="404.40" y="177.79" font-size="8.60" font-weight="bold" text-anchor="middle" fill="#111" letter-spacing="-0.2">**</text>
<text x="360.65" y="227.50" font-size="8.48" font-weight="bold" fill="#111" transform="rotate(-90 360.65 227.50)">%CD4<tspan font-size="6.10" dy="-2.54">+</tspan><tspan dy="2.54">IFNγ</tspan><tspan font-size="6.10" dy="-2.54">+</tspan></text>
<line x1="458.80" y1="213.00" x2="458.80" y2="198.00" stroke="#111" stroke-width="1.25" stroke-linecap="butt"/>
<line x1="456.21" y1="198.00" x2="461.39" y2="198.00" stroke="#111" stroke-width="1.25" stroke-linecap="butt"/>
<rect x="453.40" y="213.00" width="10.80" height="41.00" fill="#1f3c73" stroke="#132447" stroke-width="0.6"/>
<line x1="475.10" y1="185.00" x2="475.10" y2="162.50" stroke="#111" stroke-width="1.25" stroke-linecap="butt"/>
<line x1="472.56" y1="162.50" x2="477.64" y2="162.50" stroke="#111" stroke-width="1.25" stroke-linecap="butt"/>
<rect x="469.80" y="185.00" width="10.60" height="69.00" fill="#ee1f25" stroke="#8f1216" stroke-width="0.6"/>
<line x1="451.00" y1="162.50" x2="451.00" y2="254.50" stroke="#111" stroke-width="1.25" stroke-linecap="butt"/>
<line x1="450.50" y1="254.00" x2="483.60" y2="254.00" stroke="#111" stroke-width="1.25" stroke-linecap="butt"/>
<line x1="448.40" y1="163.00" x2="451.00" y2="163.00" stroke="#111" stroke-width="1.25" stroke-linecap="butt"/>
<text x="445.00" y="166.17" font-size="8.80" font-weight="bold" text-anchor="end" fill="#111">40</text>
<line x1="448.40" y1="185.70" x2="451.00" y2="185.70" stroke="#111" stroke-width="1.25" stroke-linecap="butt"/>
<text x="445.00" y="188.87" font-size="8.80" font-weight="bold" text-anchor="end" fill="#111">30</text>
<line x1="448.40" y1="208.50" x2="451.00" y2="208.50" stroke="#111" stroke-width="1.25" stroke-linecap="butt"/>
<text x="445.00" y="211.67" font-size="8.80" font-weight="bold" text-anchor="end" fill="#111">20</text>
<line x1="448.40" y1="231.20" x2="451.00" y2="231.20" stroke="#111" stroke-width="1.25" stroke-linecap="butt"/>
<text x="445.00" y="234.37" font-size="8.80" font-weight="bold" text-anchor="end" fill="#111">10</text>
<line x1="448.40" y1="254.00" x2="451.00" y2="254.00" stroke="#111" stroke-width="1.25" stroke-linecap="butt"/>
<text x="445.00" y="257.17" font-size="8.80" font-weight="bold" text-anchor="end" fill="#111">0</text>
<text x="451.00" y="264.00" font-size="7.72" font-weight="bold" font-style="italic" fill="#111">B<tspan font-size="5.10" dy="-2.63">WT</tspan></text>
<text x="469.00" y="264.00" font-size="8.98" font-weight="bold" font-style="italic" fill="#111">B<tspan font-size="5.93" dy="-3.05" dx="0.45">p35</tspan><tspan font-size="4.67" dy="-0.45" dx="0.45">-/-</tspan></text>
<text x="474.60" y="162.59" font-size="8.60" font-weight="bold" text-anchor="middle" fill="#111" letter-spacing="-0.2">**</text>
<text x="432.93" y="228.00" font-size="8.14" font-weight="bold" fill="#111" transform="rotate(-90 432.93 228.00)">%CD4<tspan font-size="5.86" dy="-2.44">+</tspan><tspan dy="2.44">TNFα</tspan><tspan font-size="5.86" dy="-2.44">+</tspan></text>
<rect x="13.00" y="296.00" width="60.00" height="51.00" fill="#fff" stroke="#111" stroke-width="1.35"/>
<line x1="25.00" y1="347.00" x2="25.00" y2="348.00" stroke="#555" stroke-width="0.5" stroke-linecap="butt"/>
<line x1="12.00" y1="306.20" x2="13.00" y2="306.20" stroke="#555" stroke-width="0.5" stroke-linecap="butt"/>
<line x1="37.00" y1="347.00" x2="37.00" y2="348.00" stroke="#555" stroke-width="0.5" stroke-linecap="butt"/>
<line x1="12.00" y1="316.40" x2="13.00" y2="316.40" stroke="#555" stroke-width="0.5" stroke-linecap="butt"/>
<line x1="49.00" y1="347.00" x2="49.00" y2="348.00" stroke="#555" stroke-width="0.5" stroke-linecap="butt"/>
<line x1="12.00" y1="326.60" x2="13.00" y2="326.60" stroke="#555" stroke-width="0.5" stroke-linecap="butt"/>
<line x1="61.00" y1="347.00" x2="61.00" y2="348.00" stroke="#555" stroke-width="0.5" stroke-linecap="butt"/>
<line x1="12.00" y1="336.80" x2="13.00" y2="336.80" stroke="#555" stroke-width="0.5" stroke-linecap="butt"/>
<path d="M14.50,346.40 C15.27,345.82 17.55,345.62 19.00,343.00 C20.45,340.38 21.81,335.93 23.00,331.00 C24.19,326.07 25.15,318.68 26.00,314.00 C26.85,309.32 27.49,305.71 28.00,303.50 C28.51,301.29 28.63,300.92 29.00,301.00 C29.37,301.08 29.77,301.79 30.20,304.00 C30.62,306.21 31.02,310.43 31.50,314.00 C31.98,317.57 32.23,321.69 33.00,325.00 C33.77,328.31 34.81,331.38 36.00,333.50 C37.19,335.62 38.64,336.56 40.00,337.50 C41.36,338.44 42.55,338.81 44.00,339.00 C45.45,339.19 47.31,338.35 48.50,338.60 C49.69,338.86 50.15,339.41 51.00,340.50 C51.85,341.59 52.73,344.00 53.50,345.00 C54.27,346.00 55.16,346.16 55.50,346.40 Z" fill="#cdbbe0" stroke="#9a82bd" stroke-width="0.7" stroke-linejoin="round" fill-opacity="1"/>
<path d="M29.50,346.40 C29.75,343.61 30.51,334.15 31.00,330.00 C31.49,325.85 31.89,322.34 32.40,322.00 C32.91,321.66 33.39,324.94 34.00,328.00 C34.61,331.06 35.41,336.87 36.00,340.00 C36.59,343.13 37.24,345.31 37.50,346.40" fill="none" stroke="#b29fd2" stroke-width="0.5" stroke-linejoin="round" fill-opacity="1"/>
<text x="56.00" y="308.00" font-size="8.58" font-weight="bold" font-style="italic" fill="#111">B<tspan font-size="5.66" dy="-2.92">WT</tspan></text>
<text x="39.60" y="319.80" font-size="8.63" font-weight="bold" text-anchor="start" fill="#111">17.8</text>
<line x1="34.50" y1="322.60" x2="59.50" y2="322.60" stroke="#777" stroke-width="0.6" stroke-linecap="butt"/>
<line x1="34.50" y1="321.60" x2="34.50" y2="323.60" stroke="#777" stroke-width="0.6" stroke-linecap="butt"/>
<line x1="59.50" y1="321.60" x2="59.50" y2="323.60" stroke="#777" stroke-width="0.6" stroke-linecap="butt"/>
<rect x="13.00" y="351.00" width="60.00" height="48.40" fill="#fff" stroke="#111" stroke-width="1.35"/>
<line x1="25.00" y1="399.40" x2="25.00" y2="400.40" stroke="#555" stroke-width="0.5" stroke-linecap="butt"/>
<line x1="12.00" y1="360.68" x2="13.00" y2="360.68" stroke="#555" stroke-width="0.5" stroke-linecap="butt"/>
<line x1="37.00" y1="399.40" x2="37.00" y2="400.40" stroke="#555" stroke-width="0.5" stroke-linecap="butt"/>
<line x1="12.00" y1="370.36" x2="13.00" y2="370.36" stroke="#555" stroke-width="0.5" stroke-linecap="butt"/>
<line x1="49.00" y1="399.40" x2="49.00" y2="400.40" stroke="#555" stroke-width="0.5" stroke-linecap="butt"/>
<line x1="12.00" y1="380.04" x2="13.00" y2="380.04" stroke="#555" stroke-width="0.5" stroke-linecap="butt"/>
<line x1="61.00" y1="399.40" x2="61.00" y2="400.40" stroke="#555" stroke-width="0.5" stroke-linecap="butt"/>
<line x1="12.00" y1="389.72" x2="13.00" y2="389.72" stroke="#555" stroke-width="0.5" stroke-linecap="butt"/>
<path d="M14.50,398.80 C15.27,398.15 17.55,397.69 19.00,395.00 C20.45,392.31 21.81,387.85 23.00,383.00 C24.19,378.15 25.15,371.00 26.00,366.50 C26.85,362.00 27.49,358.62 28.00,356.50 C28.51,354.38 28.63,353.92 29.00,354.00 C29.37,354.08 29.77,354.79 30.20,357.00 C30.62,359.21 31.02,363.09 31.50,367.00 C31.98,370.91 32.32,376.09 33.00,380.00 C33.68,383.91 34.48,387.48 35.50,390.00 C36.52,392.52 37.55,393.61 39.00,394.80 C40.45,395.99 42.13,396.46 44.00,397.00 C45.87,397.54 47.96,397.69 50.00,398.00 C52.04,398.31 54.98,398.66 56.00,398.80 Z" fill="#cdbbe0" stroke="#9a82bd" stroke-width="0.7" stroke-linejoin="round" fill-opacity="1"/>
<text x="49.00" y="361.00" font-size="9.39" font-weight="bold" font-style="italic" fill="#111">B<tspan font-size="6.20" dy="-3.19" dx="0.47">p35</tspan><tspan font-size="4.88" dy="-0.47" dx="0.47">-/-</tspan></text>
<text x="40.00" y="373.60" font-size="8.73" font-weight="bold" text-anchor="start" fill="#111">7.74</text>
<line x1="34.50" y1="376.00" x2="59.50" y2="376.00" stroke="#777" stroke-width="0.6" stroke-linecap="butt"/>
<line x1="34.50" y1="375.00" x2="34.50" y2="377.00" stroke="#777" stroke-width="0.6" stroke-linecap="butt"/>
<line x1="59.50" y1="375.00" x2="59.50" y2="377.00" stroke="#777" stroke-width="0.6" stroke-linecap="butt"/>
<text x="10.40" y="334.60" font-size="8.90" font-weight="bold" fill="#111" transform="rotate(-90 10.40 334.60)">CD4</text>
<text x="10.40" y="382.80" font-size="8.90" font-weight="bold" fill="#111" transform="rotate(-90 10.40 382.80)">CD4</text>
<text x="31.60" y="408.20" font-size="8.69" font-weight="bold" text-anchor="start" fill="#111">Foxp3</text>
<line x1="117.20" y1="339.00" x2="117.20" y2="315.00" stroke="#111" stroke-width="1.25" stroke-linecap="butt"/>
<line x1="113.94" y1="315.00" x2="120.46" y2="315.00" stroke="#111" stroke-width="1.25" stroke-linecap="butt"/>
<rect x="110.40" y="339.00" width="13.60" height="58.50" fill="#1f3c73" stroke="#132447" stroke-width="0.6"/>
<line x1="138.90" y1="372.00" x2="138.90" y2="359.50" stroke="#111" stroke-width="1.25" stroke-linecap="butt"/>
<line x1="135.59" y1="359.50" x2="142.21" y2="359.50" stroke="#111" stroke-width="1.25" stroke-linecap="butt"/>
<rect x="132.00" y="372.00" width="13.80" height="25.50" fill="#ee1f25" stroke="#8f1216" stroke-width="0.6"/>
<line x1="107.00" y1="302.50" x2="107.00" y2="398.00" stroke="#111" stroke-width="1.25" stroke-linecap="butt"/>
<line x1="106.50" y1="397.50" x2="150.60" y2="397.50" stroke="#111" stroke-width="1.25" stroke-linecap="butt"/>
<line x1="104.40" y1="303.00" x2="107.00" y2="303.00" stroke="#111" stroke-width="1.25" stroke-linecap="butt"/>
<text x="102.00" y="306.31" font-size="9.20" font-weight="bold" text-anchor="end" fill="#111">30</text>
<line x1="104.40" y1="334.50" x2="107.00" y2="334.50" stroke="#111" stroke-width="1.25" stroke-linecap="butt"/>
<text x="102.00" y="337.81" font-size="9.20" font-weight="bold" text-anchor="end" fill="#111">20</text>
<line x1="104.40" y1="366.00" x2="107.00" y2="366.00" stroke="#111" stroke-width="1.25" stroke-linecap="butt"/>
<text x="102.00" y="369.31" font-size="9.20" font-weight="bold" text-anchor="end" fill="#111">10</text>
<line x1="104.40" y1="397.50" x2="107.00" y2="397.50" stroke="#111" stroke-width="1.25" stroke-linecap="butt"/>
<text x="102.00" y="400.81" font-size="9.20" font-weight="bold" text-anchor="end" fill="#111">0</text>
<text x="110.00" y="406.90" font-size="8.24" font-weight="bold" font-style="italic" fill="#111">B<tspan font-size="5.44" dy="-2.80">WT</tspan></text>
<text x="131.40" y="406.90" font-size="9.39" font-weight="bold" font-style="italic" fill="#111">B<tspan font-size="6.20" dy="-3.19" dx="0.47">p35</tspan><tspan font-size="4.88" dy="-0.47" dx="0.47">-/-</tspan></text>
<text x="139.40" y="359.79" font-size="8.60" font-weight="bold" text-anchor="middle" fill="#111" letter-spacing="-0.2">**</text>
<text x="87.07" y="374.50" font-size="8.54" font-weight="bold" fill="#111" transform="rotate(-90 87.07 374.50)">%CD4<tspan font-size="6.15" dy="-2.56">+</tspan><tspan dy="2.56">Foxp3</tspan><tspan font-size="6.15" dy="-2.56">+</tspan></text>
<text x="189.20" y="293.20" font-size="8.60" font-weight="bold" text-anchor="middle" fill="#111">ISO</text>
<text x="245.00" y="293.40" font-size="8.01" font-weight="bold" font-style="italic" fill="#111">B<tspan font-size="5.29" dy="-2.72">WT</tspan></text>
<text x="297.50" y="294.00" font-size="9.39" font-weight="bold" font-style="italic" fill="#111">B<tspan font-size="6.20" dy="-3.19" dx="0.47">p35</tspan><tspan font-size="4.88" dy="-0.47" dx="0.47">-/-</tspan></text>
<text x="157.66" y="327.20" font-size="9.05" font-weight="bold" fill="#111" transform="rotate(-90 157.66 327.20)">p35</text>
<text x="157.93" y="384.40" font-size="8.70" font-weight="bold" fill="#111" transform="rotate(-90 157.93 384.40)">IL10</text>
<rect x="162.00" y="295.20" width="54.50" height="50.80" fill="#fff" stroke="#111" stroke-width="1.35"/>
<line x1="172.90" y1="346.00" x2="172.90" y2="347.00" stroke="#555" stroke-width="0.5" stroke-linecap="butt"/>
<line x1="161.00" y1="305.36" x2="162.00" y2="305.36" stroke="#555" stroke-width="0.5" stroke-linecap="butt"/>
<line x1="183.80" y1="346.00" x2="183.80" y2="347.00" stroke="#555" stroke-width="0.5" stroke-linecap="butt"/>
<line x1="161.00" y1="315.52" x2="162.00" y2="315.52" stroke="#555" stroke-width="0.5" stroke-linecap="butt"/>
<line x1="194.70" y1="346.00" x2="194.70" y2="347.00" stroke="#555" stroke-width="0.5" stroke-linecap="butt"/>
<line x1="161.00" y1="325.68" x2="162.00" y2="325.68" stroke="#555" stroke-width="0.5" stroke-linecap="butt"/>
<line x1="205.60" y1="346.00" x2="205.60" y2="347.00" stroke="#555" stroke-width="0.5" stroke-linecap="butt"/>
<line x1="161.00" y1="335.84" x2="162.00" y2="335.84" stroke="#555" stroke-width="0.5" stroke-linecap="butt"/>
<g filter="url(#bl)">
<path d="M192.09,345.80 C191.89,340.04 189.80,339.40 189.80,333.00 C189.80,328.45 190.63,326.00 195.00,326.00 C199.37,326.00 200.20,328.45 200.20,333.00 C200.20,339.40 198.11,340.04 197.91,345.80 Z" fill="#2a5cc4"/>
<ellipse cx="195.00" cy="334.26" rx="4.06" ry="6.72" fill="#3595e3"/>
<ellipse cx="195.00" cy="333.94" rx="3.02" ry="5.00" fill="#3cc6c0"/>
<ellipse cx="195.00" cy="333.68" rx="2.18" ry="3.62" fill="#58d36a"/>
<ellipse cx="195.00" cy="333.32" rx="1.04" ry="1.72" fill="#9edc46"/>
</g>
<text x="196.20" y="306.40" font-size="8.70" font-weight="bold" text-anchor="middle" fill="#111">0.91</text>
<rect x="187.00" y="309.00" width="17.50" height="17.00" fill="none" stroke="#111" stroke-width="1.15"/>
<rect x="220.50" y="295.20" width="55.50" height="50.80" fill="#fff" stroke="#111" stroke-width="1.35"/>
<line x1="231.60" y1="346.00" x2="231.60" y2="347.00" stroke="#555" stroke-width="0.5" stroke-linecap="butt"/>
<line x1="219.50" y1="305.36" x2="220.50" y2="305.36" stroke="#555" stroke-width="0.5" stroke-linecap="butt"/>
<line x1="242.70" y1="346.00" x2="242.70" y2="347.00" stroke="#555" stroke-width="0.5" stroke-linecap="butt"/>
<line x1="219.50" y1="315.52" x2="220.50" y2="315.52" stroke="#555" stroke-width="0.5" stroke-linecap="butt"/>
<line x1="253.80" y1="346.00" x2="253.80" y2="347.00" stroke="#555" stroke-width="0.5" stroke-linecap="butt"/>
<line x1="219.50" y1="325.68" x2="220.50" y2="325.68" stroke="#555" stroke-width="0.5" stroke-linecap="butt"/>
<line x1="264.90" y1="346.00" x2="264.90" y2="347.00" stroke="#555" stroke-width="0.5" stroke-linecap="butt"/>
<line x1="219.50" y1="335.84" x2="220.50" y2="335.84" stroke="#555" stroke-width="0.5" stroke-linecap="butt"/>
<g filter="url(#bl)">
<path d="M252.12,333.00 C251.92,328.20 251.60,327.67 251.60,322.33 C251.60,316.66 252.43,313.60 256.80,313.60 C261.17,313.60 262.00,316.66 262.00,322.33 C262.00,327.67 261.68,328.20 261.48,333.00 Z" fill="#2a5cc4"/>
<path d="M253.89,333.00 C253.69,328.63 253.16,328.15 253.16,323.30 C253.16,317.78 253.74,314.80 256.80,314.80 C259.86,314.80 260.44,317.78 260.44,323.30 C260.44,328.15 259.91,328.63 259.71,333.00 Z" fill="#3a8fe0"/>
<path d="M255.05,333.00 C254.85,328.81 254.62,328.34 254.62,323.69 C254.62,318.82 254.97,316.20 256.80,316.20 C258.63,316.20 258.98,318.82 258.98,323.69 C258.98,328.34 258.75,328.81 258.55,333.00 Z" fill="#45c0cc"/>
<ellipse cx="256.80" cy="322.33" rx="1.04" ry="3.10" fill="#5fd08a"/>
<path d="M253.33,345.80 C253.13,340.04 250.60,339.40 250.60,333.00 C250.60,325.85 251.59,322.00 256.80,322.00 C262.01,322.00 263.00,325.85 263.00,333.00 C263.00,339.40 260.47,340.04 260.27,345.80 Z" fill="#2a5cc4"/>
<ellipse cx="256.80" cy="332.70" rx="4.84" ry="8.28" fill="#3595e3"/>
<ellipse cx="256.80" cy="332.78" rx="3.60" ry="6.16" fill="#3cc6c0"/>
<ellipse cx="256.80" cy="332.84" rx="2.60" ry="4.46" fill="#58d36a"/>
<ellipse cx="256.80" cy="332.92" rx="1.24" ry="2.12" fill="#9edc46"/>
</g>
<text x="255.40" y="306.20" font-size="8.70" font-weight="bold" text-anchor="middle" fill="#111">6.57</text>
<rect x="246.60" y="309.00" width="17.40" height="17.40" fill="none" stroke="#111" stroke-width="1.15"/>
<rect x="280.50" y="295.20" width="56.50" height="50.80" fill="#fff" stroke="#111" stroke-width="1.35"/>
<line x1="291.80" y1="346.00" x2="291.80" y2="347.00" stroke="#555" stroke-width="0.5" stroke-linecap="butt"/>
<line x1="279.50" y1="305.36" x2="280.50" y2="305.36" stroke="#555" stroke-width="0.5" stroke-linecap="butt"/>
<line x1="303.10" y1="346.00" x2="303.10" y2="347.00" stroke="#555" stroke-width="0.5" stroke-linecap="butt"/>
<line x1="279.50" y1="315.52" x2="280.50" y2="315.52" stroke="#555" stroke-width="0.5" stroke-linecap="butt"/>
<line x1="314.40" y1="346.00" x2="314.40" y2="347.00" stroke="#555" stroke-width="0.5" stroke-linecap="butt"/>
<line x1="279.50" y1="325.68" x2="280.50" y2="325.68" stroke="#555" stroke-width="0.5" stroke-linecap="butt"/>
<line x1="325.70" y1="346.00" x2="325.70" y2="347.00" stroke="#555" stroke-width="0.5" stroke-linecap="butt"/>
<line x1="279.50" y1="335.84" x2="280.50" y2="335.84" stroke="#555" stroke-width="0.5" stroke-linecap="butt"/>
<g filter="url(#bl)">
<path d="M309.81,334.00 C309.61,329.05 309.30,328.50 309.30,323.00 C309.30,317.15 310.12,314.00 314.40,314.00 C318.68,314.00 319.50,317.15 319.50,323.00 C319.50,328.50 319.19,329.05 318.99,334.00 Z" fill="#2a5cc4"/>
<path d="M311.54,334.00 C311.34,329.50 310.83,329.00 310.83,324.00 C310.83,318.28 311.40,315.20 314.40,315.20 C317.40,315.20 317.97,318.28 317.97,324.00 C317.97,329.00 317.46,329.50 317.26,334.00 Z" fill="#3a8fe0"/>
<path d="M312.69,334.00 C312.49,329.68 312.26,329.20 312.26,324.40 C312.26,319.33 312.60,316.60 314.40,316.60 C316.20,316.60 316.54,319.33 316.54,324.40 C316.54,329.20 316.31,329.68 316.11,334.00 Z" fill="#45c0cc"/>
<ellipse cx="314.40" cy="323.00" rx="1.02" ry="3.20" fill="#5fd08a"/>
<path d="M311.04,345.80 C310.84,340.49 308.40,339.90 308.40,334.00 C308.40,326.20 309.36,322.00 314.40,322.00 C319.44,322.00 320.40,326.20 320.40,334.00 C320.40,339.90 317.96,340.49 317.76,345.80 Z" fill="#2a5cc4"/>
<ellipse cx="314.40" cy="333.00" rx="4.68" ry="8.36" fill="#3595e3"/>
<ellipse cx="314.40" cy="333.26" rx="3.48" ry="6.22" fill="#3cc6c0"/>
<ellipse cx="314.40" cy="333.46" rx="2.52" ry="4.50" fill="#58d36a"/>
<ellipse cx="314.40" cy="333.74" rx="1.20" ry="2.14" fill="#9edc46"/>
</g>
<text x="311.40" y="307.40" font-size="8.70" font-weight="bold" text-anchor="middle" fill="#111">6.61</text>
<rect x="306.00" y="309.00" width="18.00" height="17.00" fill="none" stroke="#111" stroke-width="1.15"/>
<rect x="162.00" y="353.80" width="54.50" height="46.00" fill="#fff" stroke="#111" stroke-width="1.35"/>
<line x1="172.90" y1="399.80" x2="172.90" y2="400.80" stroke="#555" stroke-width="0.5" stroke-linecap="butt"/>
<line x1="161.00" y1="363.00" x2="162.00" y2="363.00" stroke="#555" stroke-width="0.5" stroke-linecap="butt"/>
<line x1="183.80" y1="399.80" x2="183.80" y2="400.80" stroke="#555" stroke-width="0.5" stroke-linecap="butt"/>
<line x1="161.00" y1="372.20" x2="162.00" y2="372.20" stroke="#555" stroke-width="0.5" stroke-linecap="butt"/>
<line x1="194.70" y1="399.80" x2="194.70" y2="400.80" stroke="#555" stroke-width="0.5" stroke-linecap="butt"/>
<line x1="161.00" y1="381.40" x2="162.00" y2="381.40" stroke="#555" stroke-width="0.5" stroke-linecap="butt"/>
<line x1="205.60" y1="399.80" x2="205.60" y2="400.80" stroke="#555" stroke-width="0.5" stroke-linecap="butt"/>
<line x1="161.00" y1="390.60" x2="162.00" y2="390.60" stroke="#555" stroke-width="0.5" stroke-linecap="butt"/>
<g filter="url(#bl)">
<path d="M191.26,399.60 C191.06,394.56 188.80,394.00 188.80,388.40 C188.80,383.98 189.70,381.60 194.40,381.60 C199.10,381.60 200.00,383.98 200.00,388.40 C200.00,394.00 197.74,394.56 197.54,399.60 Z" fill="#2a5cc4"/>
<ellipse cx="194.40" cy="389.29" rx="4.59" ry="6.46" fill="#3595e3"/>
<ellipse cx="194.40" cy="389.11" rx="3.70" ry="5.20" fill="#3cc6c0"/>
<ellipse cx="194.40" cy="388.96" rx="2.91" ry="4.10" fill="#58d36a"/>
<ellipse cx="194.40" cy="388.79" rx="2.02" ry="2.84" fill="#d8e23a"/>
<ellipse cx="194.40" cy="388.62" rx="1.12" ry="1.58" fill="#f0a030"/>
<ellipse cx="194.40" cy="388.51" rx="0.56" ry="0.79" fill="#e8402a"/>
</g>
<text x="195.80" y="364.80" font-size="8.70" font-weight="bold" text-anchor="middle" fill="#111">0.71</text>
<rect x="186.00" y="367.20" width="17.60" height="14.20" fill="none" stroke="#111" stroke-width="1.15"/>
<rect x="220.50" y="353.80" width="55.50" height="46.00" fill="#fff" stroke="#111" stroke-width="1.35"/>
<line x1="231.60" y1="399.80" x2="231.60" y2="400.80" stroke="#555" stroke-width="0.5" stroke-linecap="butt"/>
<line x1="219.50" y1="363.00" x2="220.50" y2="363.00" stroke="#555" stroke-width="0.5" stroke-linecap="butt"/>
<line x1="242.70" y1="399.80" x2="242.70" y2="400.80" stroke="#555" stroke-width="0.5" stroke-linecap="butt"/>
<line x1="219.50" y1="372.20" x2="220.50" y2="372.20" stroke="#555" stroke-width="0.5" stroke-linecap="butt"/>
<line x1="253.80" y1="399.80" x2="253.80" y2="400.80" stroke="#555" stroke-width="0.5" stroke-linecap="butt"/>
<line x1="219.50" y1="381.40" x2="220.50" y2="381.40" stroke="#555" stroke-width="0.5" stroke-linecap="butt"/>
<line x1="264.90" y1="399.80" x2="264.90" y2="400.80" stroke="#555" stroke-width="0.5" stroke-linecap="butt"/>
<line x1="219.50" y1="390.60" x2="220.50" y2="390.60" stroke="#555" stroke-width="0.5" stroke-linecap="butt"/>
<g filter="url(#bl)">
<path d="M250.51,399.60 C250.31,394.02 247.30,393.40 247.30,387.20 C247.30,379.53 248.47,375.40 254.60,375.40 C260.73,375.40 261.90,379.53 261.90,387.20 C261.90,393.40 258.89,394.02 258.69,399.60 Z" fill="#2a5cc4"/>
<ellipse cx="254.60" cy="386.43" rx="5.99" ry="8.91" fill="#3595e3"/>
<ellipse cx="254.60" cy="386.58" rx="4.82" ry="7.17" fill="#3cc6c0"/>
<ellipse cx="254.60" cy="386.71" rx="3.80" ry="5.65" fill="#58d36a"/>
<ellipse cx="254.60" cy="386.86" rx="2.63" ry="3.91" fill="#d8e23a"/>
<ellipse cx="254.60" cy="387.01" rx="1.46" ry="2.17" fill="#f0a030"/>
<ellipse cx="254.60" cy="387.11" rx="0.73" ry="1.09" fill="#e8402a"/>
</g>
<text x="254.20" y="364.00" font-size="8.70" font-weight="bold" text-anchor="middle" fill="#111">8.58</text>
<rect x="245.80" y="367.40" width="17.20" height="14.00" fill="none" stroke="#111" stroke-width="1.15"/>
<rect x="280.50" y="353.80" width="56.50" height="46.00" fill="#fff" stroke="#111" stroke-width="1.35"/>
<line x1="291.80" y1="399.80" x2="291.80" y2="400.80" stroke="#555" stroke-width="0.5" stroke-linecap="butt"/>
<line x1="279.50" y1="363.00" x2="280.50" y2="363.00" stroke="#555" stroke-width="0.5" stroke-linecap="butt"/>
<line x1="303.10" y1="399.80" x2="303.10" y2="400.80" stroke="#555" stroke-width="0.5" stroke-linecap="butt"/>
<line x1="279.50" y1="372.20" x2="280.50" y2="372.20" stroke="#555" stroke-width="0.5" stroke-linecap="butt"/>
<line x1="314.40" y1="399.80" x2="314.40" y2="400.80" stroke="#555" stroke-width="0.5" stroke-linecap="butt"/>
<line x1="279.50" y1="381.40" x2="280.50" y2="381.40" stroke="#555" stroke-width="0.5" stroke-linecap="butt"/>
<line x1="325.70" y1="399.80" x2="325.70" y2="400.80" stroke="#555" stroke-width="0.5" stroke-linecap="butt"/>
<line x1="279.50" y1="390.60" x2="280.50" y2="390.60" stroke="#555" stroke-width="0.5" stroke-linecap="butt"/>
<g filter="url(#bl)">
<path d="M310.19,399.60 C309.99,394.20 307.20,393.60 307.20,387.60 C307.20,380.45 308.29,376.60 314.00,376.60 C319.71,376.60 320.80,380.45 320.80,387.60 C320.80,393.60 318.01,394.20 317.81,399.60 Z" fill="#2a5cc4"/>
<ellipse cx="314.00" cy="387.03" rx="5.58" ry="8.45" fill="#3595e3"/>
<ellipse cx="314.00" cy="387.14" rx="4.49" ry="6.80" fill="#3cc6c0"/>
<ellipse cx="314.00" cy="387.24" rx="3.54" ry="5.36" fill="#58d36a"/>
<ellipse cx="314.00" cy="387.35" rx="2.45" ry="3.71" fill="#d8e23a"/>
<ellipse cx="314.00" cy="387.46" rx="1.36" ry="2.06" fill="#f0a030"/>
<ellipse cx="314.00" cy="387.53" rx="0.68" ry="1.03" fill="#e8402a"/>
</g>
<text x="312.80" y="366.20" font-size="8.70" font-weight="bold" text-anchor="middle" fill="#111">9.72</text>
<rect x="304.60" y="368.40" width="17.80" height="13.00" fill="none" stroke="#111" stroke-width="1.15"/>
<text x="165.60" y="410.80" font-size="8.10" font-weight="bold" text-anchor="start" fill="#111">CD4</text>
<line x1="183.50" y1="407.40" x2="325.00" y2="407.40" stroke="#555" stroke-width="0.7" stroke-linecap="butt"/>
<path d="M329.00,407.40 L323.50,404.80 L323.50,410.00 Z" fill="#111"/>
<line x1="391.50" y1="334.00" x2="391.50" y2="319.50" stroke="#111" stroke-width="1.25" stroke-linecap="butt"/>
<line x1="388.86" y1="319.50" x2="394.14" y2="319.50" stroke="#111" stroke-width="1.25" stroke-linecap="butt"/>
<rect x="386.00" y="334.00" width="11.00" height="63.00" fill="#1f3c73" stroke="#132447" stroke-width="0.6"/>
<line x1="409.25" y1="330.50" x2="409.25" y2="313.00" stroke="#111" stroke-width="1.25" stroke-linecap="butt"/>
<line x1="406.73" y1="313.00" x2="411.77" y2="313.00" stroke="#111" stroke-width="1.25" stroke-linecap="butt"/>
<rect x="404.00" y="330.50" width="10.50" height="66.50" fill="#ee1f25" stroke="#8f1216" stroke-width="0.6"/>
<line x1="384.00" y1="299.50" x2="384.00" y2="397.50" stroke="#111" stroke-width="1.25" stroke-linecap="butt"/>
<line x1="383.50" y1="397.00" x2="419.00" y2="397.00" stroke="#111" stroke-width="1.25" stroke-linecap="butt"/>
<line x1="381.40" y1="300.00" x2="384.00" y2="300.00" stroke="#111" stroke-width="1.25" stroke-linecap="butt"/>
<text x="378.20" y="303.17" font-size="8.80" font-weight="bold" text-anchor="end" fill="#111">10</text>
<line x1="381.40" y1="319.40" x2="384.00" y2="319.40" stroke="#111" stroke-width="1.25" stroke-linecap="butt"/>
<text x="378.20" y="322.57" font-size="8.80" font-weight="bold" text-anchor="end" fill="#111">8</text>
<line x1="381.40" y1="338.80" x2="384.00" y2="338.80" stroke="#111" stroke-width="1.25" stroke-linecap="butt"/>
<text x="378.20" y="341.97" font-size="8.80" font-weight="bold" text-anchor="end" fill="#111">6</text>
<line x1="381.40" y1="358.20" x2="384.00" y2="358.20" stroke="#111" stroke-width="1.25" stroke-linecap="butt"/>
<text x="378.20" y="361.37" font-size="8.80" font-weight="bold" text-anchor="end" fill="#111">4</text>
<line x1="381.40" y1="377.60" x2="384.00" y2="377.60" stroke="#111" stroke-width="1.25" stroke-linecap="butt"/>
<text x="378.20" y="380.77" font-size="8.80" font-weight="bold" text-anchor="end" fill="#111">2</text>
<line x1="381.40" y1="397.00" x2="384.00" y2="397.00" stroke="#111" stroke-width="1.25" stroke-linecap="butt"/>
<text x="378.20" y="400.17" font-size="8.80" font-weight="bold" text-anchor="end" fill="#111">0</text>
<text x="386.00" y="407.00" font-size="7.44" font-weight="bold" font-style="italic" fill="#111">B<tspan font-size="4.91" dy="-2.53">WT</tspan></text>
<text x="402.50" y="407.00" font-size="9.18" font-weight="bold" font-style="italic" fill="#111">B<tspan font-size="6.06" dy="-3.12" dx="0.46">p35</tspan><tspan font-size="4.77" dy="-0.46" dx="0.46">-/-</tspan></text>
<text x="411.80" y="310.40" font-size="9.30" font-weight="bold" font-style="italic" text-anchor="middle" fill="#111">NS</text>
<text x="366.27" y="369.00" font-size="9.08" font-weight="bold" fill="#111" transform="rotate(-90 366.27 369.00)">%CD4<tspan font-size="6.53" dy="-2.72">+</tspan><tspan dy="2.72">p35</tspan><tspan font-size="6.53" dy="-2.72">+</tspan></text>
<line x1="462.75" y1="347.50" x2="462.75" y2="331.00" stroke="#111" stroke-width="1.25" stroke-linecap="butt"/>
<line x1="460.23" y1="331.00" x2="465.27" y2="331.00" stroke="#111" stroke-width="1.25" stroke-linecap="butt"/>
<rect x="457.50" y="347.50" width="10.50" height="49.00" fill="#1f3c73" stroke="#132447" stroke-width="0.6"/>
<line x1="479.75" y1="339.00" x2="479.75" y2="326.00" stroke="#111" stroke-width="1.25" stroke-linecap="butt"/>
<line x1="477.23" y1="326.00" x2="482.27" y2="326.00" stroke="#111" stroke-width="1.25" stroke-linecap="butt"/>
<rect x="474.50" y="339.00" width="10.50" height="57.50" fill="#ee1f25" stroke="#8f1216" stroke-width="0.6"/>
<line x1="454.80" y1="304.00" x2="454.80" y2="397.00" stroke="#111" stroke-width="1.25" stroke-linecap="butt"/>
<line x1="454.30" y1="396.50" x2="489.50" y2="396.50" stroke="#111" stroke-width="1.25" stroke-linecap="butt"/>
<line x1="452.20" y1="304.50" x2="454.80" y2="304.50" stroke="#111" stroke-width="1.25" stroke-linecap="butt"/>
<text x="448.40" y="307.67" font-size="8.80" font-weight="bold" text-anchor="end" fill="#111">15</text>
<line x1="452.20" y1="322.90" x2="454.80" y2="322.90" stroke="#111" stroke-width="1.25" stroke-linecap="butt"/>
<text x="448.40" y="326.07" font-size="8.80" font-weight="bold" text-anchor="end" fill="#111">12</text>
<line x1="452.20" y1="341.30" x2="454.80" y2="341.30" stroke="#111" stroke-width="1.25" stroke-linecap="butt"/>
<text x="448.40" y="344.47" font-size="8.80" font-weight="bold" text-anchor="end" fill="#111">9</text>
<line x1="452.20" y1="359.70" x2="454.80" y2="359.70" stroke="#111" stroke-width="1.25" stroke-linecap="butt"/>
<text x="448.40" y="362.87" font-size="8.80" font-weight="bold" text-anchor="end" fill="#111">6</text>
<line x1="452.20" y1="378.10" x2="454.80" y2="378.10" stroke="#111" stroke-width="1.25" stroke-linecap="butt"/>
<text x="448.40" y="381.27" font-size="8.80" font-weight="bold" text-anchor="end" fill="#111">3</text>
<line x1="452.20" y1="396.50" x2="454.80" y2="396.50" stroke="#111" stroke-width="1.25" stroke-linecap="butt"/>
<text x="448.40" y="399.67" font-size="8.80" font-weight="bold" text-anchor="end" fill="#111">0</text>
<text x="456.00" y="406.40" font-size="7.72" font-weight="bold" font-style="italic" fill="#111">B<tspan font-size="5.10" dy="-2.63">WT</tspan></text>
<text x="474.50" y="406.40" font-size="9.18" font-weight="bold" font-style="italic" fill="#111">B<tspan font-size="6.06" dy="-3.12" dx="0.46">p35</tspan><tspan font-size="4.77" dy="-0.46" dx="0.46">-/-</tspan></text>
<text x="481.80" y="324.40" font-size="9.30" font-weight="bold" font-style="italic" text-anchor="middle" fill="#111">NS</text>
<text x="438.80" y="373.00" font-size="8.90" font-weight="bold" fill="#111" transform="rotate(-90 438.80 373.00)">% CD4<tspan font-size="6.41" dy="-2.67">+</tspan><tspan dy="2.67">IL10</tspan><tspan font-size="6.41" dy="-2.67">+</tspan></text>
<text x="29.8" y="428.8" font-size="8.35" font-weight="bold" fill="#111">CD8<tspan font-size="5.4" dy="-2.6">+</tspan><tspan dy="2.4"> cells</tspan></text>
<line x1="29.20" y1="430.70" x2="67.80" y2="430.70" stroke="#111" stroke-width="0.8" stroke-linecap="butt"/>
<line x1="38.40" y1="499.50" x2="38.40" y2="495.00" stroke="#111" stroke-width="1.25" stroke-linecap="butt"/>
<line x1="35.23" y1="495.00" x2="41.57" y2="495.00" stroke="#111" stroke-width="1.25" stroke-linecap="butt"/>
<rect x="31.80" y="499.50" width="13.20" height="13.20" fill="#1f3c73" stroke="#132447" stroke-width="0.6"/>
<line x1="58.65" y1="462.00" x2="58.65" y2="441.60" stroke="#111" stroke-width="1.25" stroke-linecap="butt"/>
<line x1="55.65" y1="441.60" x2="61.65" y2="441.60" stroke="#111" stroke-width="1.25" stroke-linecap="butt"/>
<rect x="52.40" y="462.00" width="12.50" height="50.70" fill="#ee1f25" stroke="#8f1216" stroke-width="0.6"/>
<line x1="28.70" y1="431.50" x2="28.70" y2="513.20" stroke="#111" stroke-width="1.25" stroke-linecap="butt"/>
<line x1="28.20" y1="512.70" x2="69.00" y2="512.70" stroke="#111" stroke-width="1.25" stroke-linecap="butt"/>
<line x1="26.10" y1="446.20" x2="28.70" y2="446.20" stroke="#111" stroke-width="1.25" stroke-linecap="butt"/>
<text x="23.00" y="449.55" font-size="9.30" font-weight="bold" text-anchor="end" fill="#111">9</text>
<line x1="26.10" y1="468.40" x2="28.70" y2="468.40" stroke="#111" stroke-width="1.25" stroke-linecap="butt"/>
<text x="23.00" y="471.75" font-size="9.30" font-weight="bold" text-anchor="end" fill="#111">6</text>
<line x1="26.10" y1="490.50" x2="28.70" y2="490.50" stroke="#111" stroke-width="1.25" stroke-linecap="butt"/>
<text x="23.00" y="493.85" font-size="9.30" font-weight="bold" text-anchor="end" fill="#111">3</text>
<line x1="26.10" y1="512.70" x2="28.70" y2="512.70" stroke="#111" stroke-width="1.25" stroke-linecap="butt"/>
<text x="23.00" y="516.05" font-size="9.30" font-weight="bold" text-anchor="end" fill="#111">0</text>
<text x="31.80" y="524.20" font-size="8.24" font-weight="bold" font-style="italic" fill="#111">B<tspan font-size="5.44" dy="-2.80">WT</tspan></text>
<text x="52.00" y="524.20" font-size="9.06" font-weight="bold" font-style="italic" fill="#111">B<tspan font-size="5.98" dy="-3.08" dx="0.45">p35</tspan><tspan font-size="4.71" dy="-0.45" dx="0.45">-/-</tspan></text>
<text x="58.80" y="440.89" font-size="8.60" font-weight="bold" text-anchor="middle" fill="#111" letter-spacing="-0.2">**</text>
<text x="14.09" y="500.00" font-size="8.58" font-weight="bold" fill="#111" transform="rotate(-90 14.09 500.00)">% CD45<tspan font-size="6.18" dy="-2.57">+</tspan><tspan dy="2.57"> cells</tspan></text>
<text x="129.00" y="440.20" font-size="8.60" font-weight="bold" text-anchor="middle" fill="#111">ISO</text>
<text x="179.00" y="439.60" font-size="8.58" font-weight="bold" font-style="italic" fill="#111">B<tspan font-size="5.66" dy="-2.92">WT</tspan></text>
<text x="232.50" y="439.40" font-size="9.18" font-weight="bold" font-style="italic" fill="#111">B<tspan font-size="6.06" dy="-3.12" dx="0.46">p35</tspan><tspan font-size="4.77" dy="-0.46" dx="0.46">-/-</tspan></text>
<text x="94.22" y="476.00" font-size="9.51" font-weight="bold" fill="#111" transform="rotate(-90 94.22 476.00)">IFNγ</text>
<rect x="97.00" y="441.60" width="56.00" height="48.00" fill="#fff" stroke="#111" stroke-width="1.35"/>
<line x1="108.20" y1="489.60" x2="108.20" y2="490.60" stroke="#555" stroke-width="0.5" stroke-linecap="butt"/>
<line x1="96.00" y1="451.20" x2="97.00" y2="451.20" stroke="#555" stroke-width="0.5" stroke-linecap="butt"/>
<line x1="119.40" y1="489.60" x2="119.40" y2="490.60" stroke="#555" stroke-width="0.5" stroke-linecap="butt"/>
<line x1="96.00" y1="460.80" x2="97.00" y2="460.80" stroke="#555" stroke-width="0.5" stroke-linecap="butt"/>
<line x1="130.60" y1="489.60" x2="130.60" y2="490.60" stroke="#555" stroke-width="0.5" stroke-linecap="butt"/>
<line x1="96.00" y1="470.40" x2="97.00" y2="470.40" stroke="#555" stroke-width="0.5" stroke-linecap="butt"/>
<line x1="141.80" y1="489.60" x2="141.80" y2="490.60" stroke="#555" stroke-width="0.5" stroke-linecap="butt"/>
<line x1="96.00" y1="480.00" x2="97.00" y2="480.00" stroke="#555" stroke-width="0.5" stroke-linecap="butt"/>
<g fill="none" stroke="#2e2e2e" stroke-width="0.55">
<path d="M131.75,489.40 C131.55,485.17 127.90,484.70 127.90,480.00 C127.90,474.15 128.78,471.00 133.40,471.00 C138.02,471.00 138.90,474.15 138.90,480.00 C138.90,484.70 135.25,485.17 135.05,489.40 Z" fill="#cfcfcf"/>
<ellipse cx="133.40" cy="479.38" rx="4.62" ry="6.94" fill="#bdbdbd"/>
<ellipse cx="133.40" cy="479.50" rx="3.74" ry="5.62" fill="#bdbdbd"/>
<ellipse cx="133.40" cy="479.62" rx="2.86" ry="4.30" fill="#bdbdbd"/>
<ellipse cx="133.40" cy="479.73" rx="1.98" ry="2.97" fill="#a0a0a0"/>
<ellipse cx="133.40" cy="479.85" rx="1.10" ry="1.65" fill="#a0a0a0"/>
</g>
<text x="134.00" y="453.20" font-size="8.70" font-weight="bold" text-anchor="middle" fill="#111">0.83</text>
<rect x="125.00" y="455.00" width="17.50" height="16.00" fill="none" stroke="#111" stroke-width="1.15"/>
<rect x="156.00" y="441.60" width="54.00" height="48.00" fill="#fff" stroke="#111" stroke-width="1.35"/>
<line x1="166.80" y1="489.60" x2="166.80" y2="490.60" stroke="#555" stroke-width="0.5" stroke-linecap="butt"/>
<line x1="155.00" y1="451.20" x2="156.00" y2="451.20" stroke="#555" stroke-width="0.5" stroke-linecap="butt"/>
<line x1="177.60" y1="489.60" x2="177.60" y2="490.60" stroke="#555" stroke-width="0.5" stroke-linecap="butt"/>
<line x1="155.00" y1="460.80" x2="156.00" y2="460.80" stroke="#555" stroke-width="0.5" stroke-linecap="butt"/>
<line x1="188.40" y1="489.60" x2="188.40" y2="490.60" stroke="#555" stroke-width="0.5" stroke-linecap="butt"/>
<line x1="155.00" y1="470.40" x2="156.00" y2="470.40" stroke="#555" stroke-width="0.5" stroke-linecap="butt"/>
<line x1="199.20" y1="489.60" x2="199.20" y2="490.60" stroke="#555" stroke-width="0.5" stroke-linecap="butt"/>
<line x1="155.00" y1="480.00" x2="156.00" y2="480.00" stroke="#555" stroke-width="0.5" stroke-linecap="butt"/>
<g fill="none" stroke="#2e2e2e" stroke-width="0.55">
<path d="M190.15,489.40 C189.95,485.17 186.30,484.70 186.30,480.00 C186.30,472.20 187.18,468.00 191.80,468.00 C196.42,468.00 197.30,472.20 197.30,480.00 C197.30,484.70 193.65,485.17 193.45,489.40 Z" fill="#cfcfcf"/>
<ellipse cx="191.80" cy="478.12" rx="4.62" ry="8.20" fill="#bdbdbd"/>
<ellipse cx="191.80" cy="478.48" rx="3.74" ry="6.64" fill="#bdbdbd"/>
<ellipse cx="191.80" cy="478.84" rx="2.86" ry="5.08" fill="#bdbdbd"/>
<ellipse cx="191.80" cy="479.19" rx="1.98" ry="3.51" fill="#a0a0a0"/>
<ellipse cx="191.80" cy="479.55" rx="1.10" ry="1.95" fill="#a0a0a0"/>
</g>
<text x="191.00" y="453.20" font-size="8.70" font-weight="bold" text-anchor="middle" fill="#111">1.92</text>
<rect x="182.00" y="456.00" width="18.00" height="15.00" fill="none" stroke="#111" stroke-width="1.15"/>
<rect x="214.00" y="440.20" width="55.50" height="49.20" fill="#fff" stroke="#111" stroke-width="1.35"/>
<line x1="225.10" y1="489.40" x2="225.10" y2="490.40" stroke="#555" stroke-width="0.5" stroke-linecap="butt"/>
<line x1="213.00" y1="450.04" x2="214.00" y2="450.04" stroke="#555" stroke-width="0.5" stroke-linecap="butt"/>
<line x1="236.20" y1="489.40" x2="236.20" y2="490.40" stroke="#555" stroke-width="0.5" stroke-linecap="butt"/>
<line x1="213.00" y1="459.88" x2="214.00" y2="459.88" stroke="#555" stroke-width="0.5" stroke-linecap="butt"/>
<line x1="247.30" y1="489.40" x2="247.30" y2="490.40" stroke="#555" stroke-width="0.5" stroke-linecap="butt"/>
<line x1="213.00" y1="469.72" x2="214.00" y2="469.72" stroke="#555" stroke-width="0.5" stroke-linecap="butt"/>
<line x1="258.40" y1="489.40" x2="258.40" y2="490.40" stroke="#555" stroke-width="0.5" stroke-linecap="butt"/>
<line x1="213.00" y1="479.56" x2="214.00" y2="479.56" stroke="#555" stroke-width="0.5" stroke-linecap="butt"/>
<g fill="none" stroke="#2e2e2e" stroke-width="0.55">
<path d="M248.95,489.20 C248.75,483.94 245.10,483.35 245.10,477.50 C245.10,467.17 245.98,461.60 250.60,461.60 C255.22,461.60 256.10,467.17 256.10,477.50 C256.10,483.35 252.45,483.94 252.25,489.20 Z" fill="#cfcfcf"/>
<ellipse cx="250.60" cy="474.75" rx="4.62" ry="10.61" fill="#bdbdbd"/>
<ellipse cx="250.60" cy="475.28" rx="3.74" ry="8.59" fill="#bdbdbd"/>
<ellipse cx="250.60" cy="475.80" rx="2.86" ry="6.57" fill="#bdbdbd"/>
<ellipse cx="250.60" cy="476.32" rx="1.98" ry="4.55" fill="#a0a0a0"/>
<ellipse cx="250.60" cy="476.85" rx="1.10" ry="2.53" fill="#a0a0a0"/>
</g>
<text x="250.00" y="453.00" font-size="8.70" font-weight="bold" text-anchor="middle" fill="#111">9.31</text>
<rect x="240.50" y="454.00" width="18.50" height="16.00" fill="none" stroke="#111" stroke-width="1.15"/>
<text x="99.50" y="500.00" font-size="8.25" font-weight="bold" text-anchor="start" fill="#111">CD8</text>
<line x1="117.50" y1="495.60" x2="258.50" y2="495.60" stroke="#555" stroke-width="0.7" stroke-linecap="butt"/>
<path d="M262.50,495.60 L257.00,493.00 L257.00,498.20 Z" fill="#111"/>
<text x="300.5" y="424.4" font-size="8" font-weight="bold" fill="#111">IFNγ<tspan font-size="5.2" dy="-2.4">+</tspan><tspan dy="2.4"> cells</tspan></text>
<line x1="299.00" y1="426.00" x2="344.00" y2="426.00" stroke="#111" stroke-width="0.8" stroke-linecap="butt"/>
<line x1="317.40" y1="502.20" x2="317.40" y2="498.20" stroke="#111" stroke-width="1.25" stroke-linecap="butt"/>
<line x1="314.81" y1="498.20" x2="319.99" y2="498.20" stroke="#111" stroke-width="1.25" stroke-linecap="butt"/>
<rect x="312.00" y="502.20" width="10.80" height="9.60" fill="#1f3c73" stroke="#132447" stroke-width="0.6"/>
<line x1="334.95" y1="459.30" x2="334.95" y2="439.20" stroke="#111" stroke-width="1.25" stroke-linecap="butt"/>
<line x1="332.33" y1="439.20" x2="337.57" y2="439.20" stroke="#111" stroke-width="1.25" stroke-linecap="butt"/>
<rect x="329.50" y="459.30" width="10.90" height="52.50" fill="#ee1f25" stroke="#8f1216" stroke-width="0.6"/>
<line x1="308.00" y1="433.00" x2="308.00" y2="512.30" stroke="#111" stroke-width="1.25" stroke-linecap="butt"/>
<line x1="307.50" y1="511.80" x2="345.00" y2="511.80" stroke="#111" stroke-width="1.25" stroke-linecap="butt"/>
<line x1="305.40" y1="433.50" x2="308.00" y2="433.50" stroke="#111" stroke-width="1.25" stroke-linecap="butt"/>
<text x="303.60" y="436.74" font-size="9.00" font-weight="bold" text-anchor="end" fill="#111">15</text>
<line x1="305.40" y1="459.60" x2="308.00" y2="459.60" stroke="#111" stroke-width="1.25" stroke-linecap="butt"/>
<text x="303.60" y="462.84" font-size="9.00" font-weight="bold" text-anchor="end" fill="#111">10</text>
<line x1="305.40" y1="485.70" x2="308.00" y2="485.70" stroke="#111" stroke-width="1.25" stroke-linecap="butt"/>
<text x="303.60" y="488.94" font-size="9.00" font-weight="bold" text-anchor="end" fill="#111">5</text>
<line x1="305.40" y1="511.80" x2="308.00" y2="511.80" stroke="#111" stroke-width="1.25" stroke-linecap="butt"/>
<text x="303.60" y="515.04" font-size="9.00" font-weight="bold" text-anchor="end" fill="#111">0</text>
<text x="311.00" y="521.80" font-size="8.01" font-weight="bold" font-style="italic" fill="#111">B<tspan font-size="5.29" dy="-2.72">WT</tspan></text>
<text x="329.00" y="521.80" font-size="8.77" font-weight="bold" font-style="italic" fill="#111">B<tspan font-size="5.79" dy="-2.98" dx="0.44">p35</tspan><tspan font-size="4.56" dy="-0.44" dx="0.44">-/-</tspan></text>
<text x="335.20" y="439.29" font-size="8.60" font-weight="bold" text-anchor="middle" fill="#111" letter-spacing="-0.2">***</text>
<text x="292.02" y="499.50" font-size="8.38" font-weight="bold" fill="#111" transform="rotate(-90 292.02 499.50)">% CD8<tspan font-size="6.04" dy="-2.51">+</tspan><tspan dy="2.51"> T cells</tspan></text>
<line x1="398.75" y1="501.00" x2="398.75" y2="496.00" stroke="#111" stroke-width="1.25" stroke-linecap="butt"/>
<line x1="395.99" y1="496.00" x2="401.51" y2="496.00" stroke="#111" stroke-width="1.25" stroke-linecap="butt"/>
<rect x="393.00" y="501.00" width="11.50" height="11.00" fill="#1f3c73" stroke="#132447" stroke-width="0.6"/>
<line x1="417.50" y1="464.50" x2="417.50" y2="444.50" stroke="#111" stroke-width="1.25" stroke-linecap="butt"/>
<line x1="414.86" y1="444.50" x2="420.14" y2="444.50" stroke="#111" stroke-width="1.25" stroke-linecap="butt"/>
<rect x="412.00" y="464.50" width="11.00" height="47.50" fill="#ee1f25" stroke="#8f1216" stroke-width="0.6"/>
<line x1="390.00" y1="430.50" x2="390.00" y2="512.50" stroke="#111" stroke-width="1.25" stroke-linecap="butt"/>
<line x1="389.50" y1="512.00" x2="427.50" y2="512.00" stroke="#111" stroke-width="1.25" stroke-linecap="butt"/>
<line x1="387.40" y1="431.40" x2="390.00" y2="431.40" stroke="#111" stroke-width="1.25" stroke-linecap="butt"/>
<text x="386.20" y="434.57" font-size="8.80" font-weight="bold" text-anchor="end" fill="#111">25</text>
<line x1="387.40" y1="447.50" x2="390.00" y2="447.50" stroke="#111" stroke-width="1.25" stroke-linecap="butt"/>
<text x="386.20" y="450.67" font-size="8.80" font-weight="bold" text-anchor="end" fill="#111">20</text>
<line x1="387.40" y1="463.70" x2="390.00" y2="463.70" stroke="#111" stroke-width="1.25" stroke-linecap="butt"/>
<text x="386.20" y="466.87" font-size="8.80" font-weight="bold" text-anchor="end" fill="#111">15</text>
<line x1="387.40" y1="479.80" x2="390.00" y2="479.80" stroke="#111" stroke-width="1.25" stroke-linecap="butt"/>
<text x="386.20" y="482.97" font-size="8.80" font-weight="bold" text-anchor="end" fill="#111">10</text>
<line x1="387.40" y1="496.00" x2="390.00" y2="496.00" stroke="#111" stroke-width="1.25" stroke-linecap="butt"/>
<text x="386.20" y="499.17" font-size="8.80" font-weight="bold" text-anchor="end" fill="#111">5</text>
<line x1="387.40" y1="512.00" x2="390.00" y2="512.00" stroke="#111" stroke-width="1.25" stroke-linecap="butt"/>
<text x="386.20" y="515.17" font-size="8.80" font-weight="bold" text-anchor="end" fill="#111">0</text>
<text x="393.50" y="523.20" font-size="7.38" font-weight="bold" font-style="italic" fill="#111">B<tspan font-size="4.87" dy="-2.51">WT</tspan></text>
<text x="411.00" y="523.20" font-size="8.77" font-weight="bold" font-style="italic" fill="#111">B<tspan font-size="5.79" dy="-2.98" dx="0.44">p35</tspan><tspan font-size="4.56" dy="-0.44" dx="0.44">-/-</tspan></text>
<text x="417.80" y="445.49" font-size="8.60" font-weight="bold" text-anchor="middle" fill="#111" letter-spacing="-0.2">**</text>
<text x="371.67" y="501.00" font-size="8.54" font-weight="bold" fill="#111" transform="rotate(-90 371.67 501.00)">Teff : Treg ratio</text>
<line x1="471.00" y1="507.00" x2="471.00" y2="503.00" stroke="#111" stroke-width="1.25" stroke-linecap="butt"/>
<line x1="468.12" y1="503.00" x2="473.88" y2="503.00" stroke="#111" stroke-width="1.25" stroke-linecap="butt"/>
<rect x="465.00" y="507.00" width="12.00" height="7.00" fill="#1f3c73" stroke="#132447" stroke-width="0.6"/>
<line x1="490.25" y1="466.50" x2="490.25" y2="446.00" stroke="#111" stroke-width="1.25" stroke-linecap="butt"/>
<line x1="487.49" y1="446.00" x2="493.01" y2="446.00" stroke="#111" stroke-width="1.25" stroke-linecap="butt"/>
<rect x="484.50" y="466.50" width="11.50" height="47.50" fill="#ee1f25" stroke="#8f1216" stroke-width="0.6"/>
<line x1="461.00" y1="431.50" x2="461.00" y2="514.50" stroke="#111" stroke-width="1.25" stroke-linecap="butt"/>
<line x1="460.50" y1="514.00" x2="500.00" y2="514.00" stroke="#111" stroke-width="1.25" stroke-linecap="butt"/>
<line x1="458.40" y1="432.00" x2="461.00" y2="432.00" stroke="#111" stroke-width="1.25" stroke-linecap="butt"/>
<text x="456.20" y="435.31" font-size="9.20" font-weight="bold" text-anchor="end" fill="#111">30</text>
<line x1="458.40" y1="459.30" x2="461.00" y2="459.30" stroke="#111" stroke-width="1.25" stroke-linecap="butt"/>
<text x="456.20" y="462.61" font-size="9.20" font-weight="bold" text-anchor="end" fill="#111">20</text>
<line x1="458.40" y1="486.70" x2="461.00" y2="486.70" stroke="#111" stroke-width="1.25" stroke-linecap="butt"/>
<text x="456.20" y="490.01" font-size="9.20" font-weight="bold" text-anchor="end" fill="#111">10</text>
<line x1="458.40" y1="514.00" x2="461.00" y2="514.00" stroke="#111" stroke-width="1.25" stroke-linecap="butt"/>
<text x="456.20" y="517.31" font-size="9.20" font-weight="bold" text-anchor="end" fill="#111">0</text>
<text x="462.50" y="522.60" font-size="7.72" font-weight="bold" font-style="italic" fill="#111">B<tspan font-size="5.10" dy="-2.63">WT</tspan></text>
<text x="482.00" y="522.60" font-size="8.98" font-weight="bold" font-style="italic" fill="#111">B<tspan font-size="5.93" dy="-3.05" dx="0.45">p35</tspan><tspan font-size="4.67" dy="-0.45" dx="0.45">-/-</tspan></text>
<text x="490.40" y="443.39" font-size="8.60" font-weight="bold" text-anchor="middle" fill="#111" letter-spacing="-0.2">**</text>
<text x="441.67" y="501.00" font-size="8.53" font-weight="bold" fill="#111" transform="rotate(-90 441.67 501.00)">CD8 : Treg ratio</text>
</svg>
</body></html>
